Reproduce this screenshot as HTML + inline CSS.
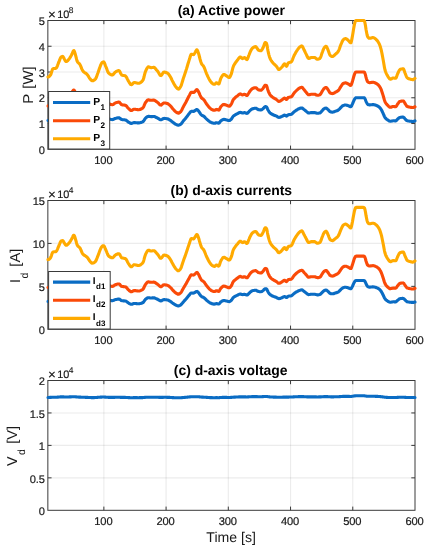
<!DOCTYPE html><html><head><meta charset="utf-8"><title>plot</title><style>html,body{margin:0;padding:0;background:#fff}</style></head><body><svg width="429" height="550" viewBox="0 0 429 550" style="display:block" font-family="'Liberation Sans', Arial, Helvetica, sans-serif" text-rendering="geometricPrecision">
<rect width="429" height="550" fill="#fff"/>
<defs><clipPath id="c0"><rect x="45.85" y="18.9" width="371.15" height="132.0"/></clipPath><clipPath id="c1"><rect x="45.85" y="198.9" width="371.15" height="132.0"/></clipPath><clipPath id="c2"><rect x="45.85" y="378.9" width="371.15" height="133.0"/></clipPath></defs>
<path d="M103.86,20.5 V149.3 M166.08,20.5 V149.3 M228.31,20.5 V149.3 M290.54,20.5 V149.3 M352.77,20.5 V149.3" stroke="#262626" stroke-opacity="0.085" stroke-width="1.15" fill="none"/>
<path d="M47.85,123.54 H415.0 M47.85,97.78 H415.0 M47.85,72.02 H415.0 M47.85,46.26 H415.0" stroke="#262626" stroke-opacity="0.085" stroke-width="1.15" fill="none"/>
<path d="M103.86,149.3 v-3.7 M103.86,20.5 v3.7 M166.08,149.3 v-3.7 M166.08,20.5 v3.7 M228.31,149.3 v-3.7 M228.31,20.5 v3.7 M290.54,149.3 v-3.7 M290.54,20.5 v3.7 M352.77,149.3 v-3.7 M352.77,20.5 v3.7 M47.85,123.54 h3.7 M415.0,123.54 h-3.7 M47.85,97.78 h3.7 M415.0,97.78 h-3.7 M47.85,72.02 h3.7 M415.0,72.02 h-3.7 M47.85,46.26 h3.7 M415.0,46.26 h-3.7" stroke="#3a3a3a" stroke-width="1" fill="none"/>
<rect x="47.85" y="20.5" width="367.15" height="128.8" fill="none" stroke="#3a3a3a" stroke-width="1"/>
<g clip-path="url(#c0)" fill="none" stroke-width="3.1" stroke-linejoin="round" stroke-linecap="round">
<path d="M48.0,120.4 L48.5,120.3 L49.0,120.2 L49.5,120.0 L50.0,119.8 L50.5,119.6 L51.0,119.2 L51.5,118.5 L52.0,117.9 L52.5,117.3 L53.0,117.1 L53.5,117.0 L54.0,117.0 L54.5,117.0 L55.0,117.0 L55.5,116.9 L56.0,116.9 L56.5,116.7 L57.0,116.3 L57.5,115.8 L58.0,115.3 L58.5,114.7 L59.0,114.3 L59.5,113.7 L60.0,113.2 L60.5,112.7 L61.0,112.4 L61.5,112.3 L62.0,112.2 L62.5,112.1 L63.0,112.2 L63.5,112.5 L64.0,112.9 L64.5,113.3 L65.0,113.7 L65.5,114.0 L66.0,114.2 L66.5,114.2 L67.0,114.1 L67.5,113.9 L68.0,113.7 L68.5,113.4 L69.0,113.2 L69.5,112.9 L70.0,112.7 L70.5,112.3 L71.0,112.0 L71.5,111.6 L72.0,111.2 L72.5,110.7 L73.0,110.2 L73.5,109.8 L74.0,109.8 L74.5,110.2 L75.0,110.9 L75.5,111.5 L76.0,112.3 L76.5,113.1 L77.0,113.9 L77.5,114.3 L78.0,114.6 L78.5,114.8 L79.0,114.9 L79.5,115.1 L80.0,115.4 L80.5,115.8 L81.0,116.3 L81.5,116.8 L82.0,117.3 L82.5,117.8 L83.0,118.0 L83.5,118.2 L84.0,118.4 L84.5,118.6 L85.0,118.7 L85.5,118.8 L86.0,119.0 L86.5,119.1 L87.0,119.3 L87.5,119.5 L88.0,119.8 L88.5,120.2 L89.0,120.5 L89.5,120.8 L90.0,121.1 L90.5,121.3 L91.0,121.6 L91.5,121.8 L92.0,121.9 L92.5,121.9 L93.0,121.9 L93.5,121.8 L94.0,121.7 L94.5,121.5 L95.0,121.4 L95.5,121.2 L96.0,120.8 L96.5,120.3 L97.0,119.8 L97.5,119.2 L98.0,118.6 L98.5,118.1 L99.0,117.5 L99.5,116.9 L100.0,116.3 L100.5,115.8 L101.0,115.3 L101.5,115.0 L102.0,114.7 L102.5,114.5 L103.0,114.4 L103.5,114.3 L104.0,114.4 L104.5,114.8 L105.0,115.3 L105.5,115.9 L106.0,116.4 L106.5,116.9 L107.0,117.4 L107.5,117.9 L108.0,118.4 L108.5,118.7 L109.0,118.9 L109.5,119.1 L110.0,119.2 L110.5,119.3 L111.0,119.4 L111.5,119.5 L112.0,119.6 L112.5,119.6 L113.0,119.5 L113.5,119.3 L114.0,119.0 L114.5,118.7 L115.0,118.5 L115.5,118.4 L116.0,118.3 L116.5,118.1 L117.0,118.0 L117.5,117.9 L118.0,117.9 L118.5,117.8 L119.0,117.8 L119.5,118.0 L120.0,118.3 L120.5,118.8 L121.0,119.2 L121.5,119.5 L122.0,119.6 L122.5,119.7 L123.0,119.7 L123.5,119.8 L124.0,119.8 L124.5,119.8 L125.0,119.9 L125.5,120.0 L126.0,120.2 L126.5,120.5 L127.0,120.9 L127.5,121.3 L128.0,121.8 L128.5,122.1 L129.0,122.4 L129.5,122.7 L130.0,123.0 L130.5,123.3 L131.0,123.4 L131.5,123.4 L132.0,123.3 L132.5,123.1 L133.0,122.9 L133.5,122.7 L134.0,122.6 L134.5,122.6 L135.0,122.6 L135.5,122.7 L136.0,122.7 L136.5,122.8 L137.0,122.8 L137.5,122.9 L138.0,122.9 L138.5,122.9 L139.0,122.9 L139.5,122.8 L140.0,122.7 L140.5,122.6 L141.0,122.5 L141.5,122.3 L142.0,122.1 L142.5,121.9 L143.0,121.6 L143.5,121.1 L144.0,120.4 L144.5,119.6 L145.0,118.8 L145.5,118.1 L146.0,117.7 L146.5,117.3 L147.0,116.9 L147.5,116.6 L148.0,116.4 L148.5,116.3 L149.0,116.3 L149.5,116.4 L150.0,116.5 L150.5,116.6 L151.0,116.7 L151.5,116.6 L152.0,116.6 L152.5,116.6 L153.0,116.5 L153.5,116.5 L154.0,116.5 L154.5,116.6 L155.0,116.8 L155.5,117.0 L156.0,117.3 L156.5,117.6 L157.0,117.8 L157.5,118.0 L158.0,118.3 L158.5,118.6 L159.0,118.9 L159.5,119.3 L160.0,119.6 L160.5,119.8 L161.0,119.8 L161.5,119.6 L162.0,119.4 L162.5,119.1 L163.0,118.7 L163.5,118.5 L164.0,118.4 L164.5,118.4 L165.0,118.5 L165.5,118.5 L166.0,118.6 L166.5,118.7 L167.0,118.7 L167.5,118.8 L168.0,119.0 L168.5,119.2 L169.0,119.5 L169.5,119.8 L170.0,120.1 L170.5,120.4 L171.0,120.8 L171.5,121.2 L172.0,121.6 L172.5,122.0 L173.0,122.4 L173.5,122.8 L174.0,123.2 L174.5,123.5 L175.0,123.9 L175.5,124.2 L176.0,124.4 L176.5,124.6 L177.0,124.9 L177.5,125.1 L178.0,125.2 L178.5,125.2 L179.0,125.1 L179.5,124.9 L180.0,124.6 L180.5,124.3 L181.0,124.0 L181.5,123.4 L182.0,122.8 L182.5,122.1 L183.0,121.4 L183.5,120.7 L184.0,120.1 L184.5,119.6 L185.0,119.0 L185.5,118.4 L186.0,117.8 L186.5,117.1 L187.0,116.5 L187.5,115.8 L188.0,115.1 L188.5,114.4 L189.0,113.8 L189.5,113.2 L190.0,112.5 L190.5,111.9 L191.0,111.4 L191.5,111.3 L192.0,111.3 L192.5,111.3 L193.0,111.4 L193.5,111.4 L194.0,111.3 L194.5,111.0 L195.0,110.7 L195.5,110.3 L196.0,109.9 L196.5,109.6 L197.0,109.5 L197.5,109.8 L198.0,110.3 L198.5,110.9 L199.0,111.6 L199.5,112.4 L200.0,113.2 L200.5,113.9 L201.0,114.5 L201.5,115.0 L202.0,115.3 L202.5,115.6 L203.0,115.8 L203.5,116.1 L204.0,116.4 L204.5,116.9 L205.0,117.4 L205.5,118.0 L206.0,118.5 L206.5,119.0 L207.0,119.5 L207.5,119.9 L208.0,120.3 L208.5,120.7 L209.0,121.1 L209.5,121.5 L210.0,121.8 L210.5,122.1 L211.0,122.4 L211.5,122.6 L212.0,122.8 L212.5,123.0 L213.0,123.1 L213.5,123.2 L214.0,123.3 L214.5,123.3 L215.0,123.2 L215.5,123.0 L216.0,122.8 L216.5,122.7 L217.0,122.8 L217.5,122.9 L218.0,123.1 L218.5,123.2 L219.0,123.1 L219.5,122.6 L220.0,121.9 L220.5,121.2 L221.0,120.8 L221.5,120.4 L222.0,120.1 L222.5,119.8 L223.0,119.5 L223.5,119.4 L224.0,119.4 L224.5,119.4 L225.0,119.5 L225.5,119.7 L226.0,119.8 L226.5,119.9 L227.0,120.1 L227.5,120.2 L228.0,120.4 L228.5,120.5 L229.0,120.6 L229.5,120.5 L230.0,120.3 L230.5,119.9 L231.0,119.5 L231.5,118.9 L232.0,118.1 L232.5,117.3 L233.0,116.5 L233.5,116.0 L234.0,115.6 L234.5,115.3 L235.0,115.0 L235.5,114.7 L236.0,114.4 L236.5,114.1 L237.0,113.9 L237.5,113.6 L238.0,113.3 L238.5,113.0 L239.0,112.8 L239.5,112.5 L240.0,112.4 L240.5,112.4 L241.0,112.5 L241.5,112.7 L242.0,112.9 L242.5,113.0 L243.0,113.0 L243.5,112.8 L244.0,112.7 L244.5,112.6 L245.0,112.7 L245.5,112.9 L246.0,113.2 L246.5,113.3 L247.0,113.4 L247.5,113.2 L248.0,112.7 L248.5,112.1 L249.0,111.6 L249.5,111.0 L250.0,110.5 L250.5,110.1 L251.0,109.7 L251.5,109.3 L252.0,109.0 L252.5,108.8 L253.0,108.7 L253.5,108.5 L254.0,108.4 L254.5,108.3 L255.0,108.2 L255.5,108.2 L256.0,108.3 L256.5,108.5 L257.0,108.8 L257.5,109.2 L258.0,109.5 L258.5,109.7 L259.0,109.7 L259.5,109.8 L260.0,109.9 L260.5,109.9 L261.0,109.9 L261.5,109.8 L262.0,109.5 L262.5,109.1 L263.0,108.7 L263.5,108.3 L264.0,107.7 L264.5,107.1 L265.0,106.7 L265.5,106.6 L266.0,106.7 L266.5,106.9 L267.0,107.6 L267.5,108.9 L268.0,110.0 L268.5,110.8 L269.0,111.6 L269.5,112.3 L270.0,112.9 L270.5,113.3 L271.0,113.7 L271.5,114.0 L272.0,114.2 L272.5,114.5 L273.0,114.7 L273.5,115.0 L274.0,115.2 L274.5,115.4 L275.0,115.5 L275.5,115.7 L276.0,115.9 L276.5,116.1 L277.0,116.4 L277.5,116.8 L278.0,117.1 L278.5,117.3 L279.0,117.4 L279.5,117.3 L280.0,117.2 L280.5,117.0 L281.0,116.8 L281.5,116.6 L282.0,116.4 L282.5,116.1 L283.0,115.8 L283.5,115.5 L284.0,115.3 L284.5,115.1 L285.0,115.2 L285.5,115.6 L286.0,115.9 L286.5,116.1 L287.0,115.9 L287.5,115.4 L288.0,114.9 L288.5,114.7 L289.0,114.6 L289.5,114.6 L290.0,114.5 L290.5,114.5 L291.0,114.4 L291.5,114.2 L292.0,113.9 L292.5,113.4 L293.0,112.9 L293.5,112.4 L294.0,111.9 L294.5,111.5 L295.0,111.1 L295.5,110.8 L296.0,110.4 L296.5,110.1 L297.0,109.8 L297.5,109.5 L298.0,109.2 L298.5,108.9 L299.0,108.7 L299.5,108.5 L300.0,108.3 L300.5,108.2 L301.0,108.0 L301.5,108.0 L302.0,108.0 L302.5,108.2 L303.0,108.6 L303.5,109.1 L304.0,109.5 L304.5,109.9 L305.0,110.3 L305.5,110.7 L306.0,111.2 L306.5,111.5 L307.0,112.0 L307.5,112.4 L308.0,112.8 L308.5,113.0 L309.0,113.0 L309.5,112.9 L310.0,112.8 L310.5,112.7 L311.0,112.6 L311.5,112.6 L312.0,112.6 L312.5,112.6 L313.0,112.6 L313.5,112.6 L314.0,112.6 L314.5,112.6 L315.0,112.6 L315.5,112.8 L316.0,113.0 L316.5,113.1 L317.0,113.3 L317.5,113.3 L318.0,113.3 L318.5,113.2 L319.0,113.1 L319.5,113.0 L320.0,112.9 L320.5,112.6 L321.0,112.0 L321.5,111.4 L322.0,110.8 L322.5,110.3 L323.0,109.7 L323.5,109.2 L324.0,108.8 L324.5,108.5 L325.0,108.3 L325.5,108.2 L326.0,108.1 L326.5,108.2 L327.0,108.6 L327.5,109.1 L328.0,109.5 L328.5,110.1 L329.0,110.7 L329.5,111.2 L330.0,111.6 L330.5,111.8 L331.0,112.0 L331.5,112.1 L332.0,112.2 L332.5,112.2 L333.0,112.1 L333.5,112.0 L334.0,111.8 L334.5,111.6 L335.0,111.4 L335.5,111.2 L336.0,111.1 L336.5,110.9 L337.0,110.7 L337.5,110.5 L338.0,110.3 L338.5,109.9 L339.0,109.5 L339.5,109.0 L340.0,108.4 L340.5,107.8 L341.0,107.3 L341.5,106.8 L342.0,106.4 L342.5,105.9 L343.0,105.6 L343.5,105.4 L344.0,105.3 L344.5,105.1 L345.0,105.0 L345.5,105.0 L346.0,105.1 L346.5,105.2 L347.0,105.3 L347.5,105.5 L348.0,105.6 L348.5,105.8 L349.0,106.0 L349.5,106.3 L350.0,106.5 L350.5,106.7 L351.0,106.7 L351.5,106.0 L352.0,104.9 L352.5,103.9 L353.0,102.6 L353.5,101.4 L354.0,100.3 L354.5,99.3 L355.0,98.5 L355.5,98.0 L356.0,97.8 L356.5,97.8 L357.0,97.8 L357.5,97.8 L358.0,97.8 L358.5,97.8 L359.0,97.8 L359.5,97.8 L360.0,97.8 L360.5,97.8 L361.0,97.8 L361.5,97.8 L362.0,97.8 L362.5,97.8 L363.0,97.8 L363.5,97.8 L364.0,97.8 L364.5,98.0 L365.0,98.8 L365.5,99.9 L366.0,101.3 L366.5,102.4 L367.0,103.4 L367.5,104.1 L368.0,104.5 L368.5,104.7 L369.0,104.8 L369.5,104.9 L370.0,104.9 L370.5,104.8 L371.0,104.8 L371.5,104.7 L372.0,104.7 L372.5,104.6 L373.0,104.6 L373.5,104.6 L374.0,104.7 L374.5,104.8 L375.0,105.0 L375.5,105.1 L376.0,105.3 L376.5,105.5 L377.0,105.7 L377.5,106.0 L378.0,106.2 L378.5,106.6 L379.0,106.9 L379.5,107.4 L380.0,107.9 L380.5,108.5 L381.0,109.2 L381.5,110.0 L382.0,111.0 L382.5,112.1 L383.0,113.2 L383.5,114.3 L384.0,115.5 L384.5,116.6 L385.0,117.6 L385.5,118.2 L386.0,118.7 L386.5,119.2 L387.0,119.5 L387.5,119.9 L388.0,120.2 L388.5,120.5 L389.0,120.8 L389.5,121.1 L390.0,121.2 L390.5,121.3 L391.0,121.2 L391.5,121.1 L392.0,121.0 L392.5,120.9 L393.0,120.8 L393.5,120.8 L394.0,120.8 L394.5,120.8 L395.0,120.9 L395.5,120.9 L396.0,120.8 L396.5,120.4 L397.0,119.8 L397.5,119.2 L398.0,118.8 L398.5,118.3 L399.0,117.9 L399.5,117.6 L400.0,117.4 L400.5,117.3 L401.0,117.2 L401.5,117.2 L402.0,117.1 L402.5,117.1 L403.0,117.1 L403.5,117.2 L404.0,117.6 L404.5,118.2 L405.0,118.8 L405.5,119.3 L406.0,119.8 L406.5,120.3 L407.0,120.6 L407.5,120.8 L408.0,120.9 L408.5,121.0 L409.0,121.1 L409.5,121.2 L410.0,121.2 L410.5,121.3 L411.0,121.3 L411.5,121.4 L412.0,121.4 L412.5,121.5 L413.0,121.4 L413.5,121.4 L414.0,121.3 L414.5,121.1 L415.0,120.9" stroke="#0A6CC4"/>
<path d="M48.0,105.9 L48.5,105.9 L49.0,105.7 L49.5,105.4 L50.0,105.1 L50.5,104.7 L51.0,104.1 L51.5,103.2 L52.0,102.2 L52.5,101.3 L53.0,100.9 L53.5,100.9 L54.0,100.8 L54.5,100.8 L55.0,100.8 L55.5,100.8 L56.0,100.7 L56.5,100.4 L57.0,99.8 L57.5,99.1 L58.0,98.3 L58.5,97.5 L59.0,96.8 L59.5,95.9 L60.0,95.1 L60.5,94.4 L61.0,94.0 L61.5,93.8 L62.0,93.6 L62.5,93.6 L63.0,93.7 L63.5,94.1 L64.0,94.7 L64.5,95.3 L65.0,95.9 L65.5,96.4 L66.0,96.6 L66.5,96.6 L67.0,96.4 L67.5,96.2 L68.0,95.9 L68.5,95.5 L69.0,95.1 L69.5,94.7 L70.0,94.3 L70.5,93.8 L71.0,93.3 L71.5,92.7 L72.0,92.1 L72.5,91.4 L73.0,90.7 L73.5,90.1 L74.0,90.1 L74.5,90.7 L75.0,91.7 L75.5,92.7 L76.0,93.8 L76.5,95.1 L77.0,96.2 L77.5,96.8 L78.0,97.2 L78.5,97.5 L79.0,97.8 L79.5,98.0 L80.0,98.5 L80.5,99.1 L81.0,99.8 L81.5,100.6 L82.0,101.4 L82.5,102.0 L83.0,102.4 L83.5,102.7 L84.0,103.0 L84.5,103.2 L85.0,103.4 L85.5,103.6 L86.0,103.8 L86.5,104.0 L87.0,104.3 L87.5,104.6 L88.0,105.1 L88.5,105.6 L89.0,106.1 L89.5,106.6 L90.0,107.0 L90.5,107.3 L91.0,107.7 L91.5,108.0 L92.0,108.2 L92.5,108.2 L93.0,108.1 L93.5,108.0 L94.0,107.8 L94.5,107.6 L95.0,107.4 L95.5,107.1 L96.0,106.6 L96.5,105.8 L97.0,105.0 L97.5,104.1 L98.0,103.3 L98.5,102.5 L99.0,101.6 L99.5,100.7 L100.0,99.8 L100.5,99.0 L101.0,98.4 L101.5,97.8 L102.0,97.3 L102.5,97.1 L103.0,96.9 L103.5,96.9 L104.0,97.0 L104.5,97.6 L105.0,98.4 L105.5,99.2 L106.0,99.9 L106.5,100.7 L107.0,101.5 L107.5,102.3 L108.0,103.0 L108.5,103.5 L109.0,103.7 L109.5,104.0 L110.0,104.2 L110.5,104.4 L111.0,104.5 L111.5,104.6 L112.0,104.7 L112.5,104.7 L113.0,104.6 L113.5,104.3 L114.0,103.9 L114.5,103.5 L115.0,103.1 L115.5,102.9 L116.0,102.7 L116.5,102.6 L117.0,102.4 L117.5,102.3 L118.0,102.2 L118.5,102.1 L119.0,102.1 L119.5,102.3 L120.0,102.9 L120.5,103.5 L121.0,104.1 L121.5,104.6 L122.0,104.8 L122.5,104.9 L123.0,104.9 L123.5,105.0 L124.0,105.1 L124.5,105.1 L125.0,105.2 L125.5,105.3 L126.0,105.6 L126.5,106.1 L127.0,106.7 L127.5,107.4 L128.0,108.0 L128.5,108.5 L129.0,108.9 L129.5,109.4 L130.0,109.9 L130.5,110.3 L131.0,110.5 L131.5,110.5 L132.0,110.3 L132.5,110.0 L133.0,109.7 L133.5,109.4 L134.0,109.2 L134.5,109.2 L135.0,109.3 L135.5,109.3 L136.0,109.4 L136.5,109.5 L137.0,109.6 L137.5,109.6 L138.0,109.7 L138.5,109.7 L139.0,109.7 L139.5,109.6 L140.0,109.5 L140.5,109.3 L141.0,109.0 L141.5,108.8 L142.0,108.5 L142.5,108.2 L143.0,107.8 L143.5,107.0 L144.0,105.9 L144.5,104.7 L145.0,103.5 L145.5,102.5 L146.0,101.9 L146.5,101.3 L147.0,100.7 L147.5,100.2 L148.0,99.9 L148.5,99.8 L149.0,99.9 L149.5,100.0 L150.0,100.2 L150.5,100.3 L151.0,100.3 L151.5,100.3 L152.0,100.3 L152.5,100.2 L153.0,100.1 L153.5,100.1 L154.0,100.1 L154.5,100.3 L155.0,100.6 L155.5,100.9 L156.0,101.3 L156.5,101.7 L157.0,102.0 L157.5,102.4 L158.0,102.8 L158.5,103.2 L159.0,103.8 L159.5,104.3 L160.0,104.8 L160.5,105.0 L161.0,105.1 L161.5,104.8 L162.0,104.4 L162.5,103.9 L163.0,103.5 L163.5,103.1 L164.0,103.0 L164.5,103.0 L165.0,103.0 L165.5,103.1 L166.0,103.2 L166.5,103.3 L167.0,103.5 L167.5,103.6 L168.0,103.8 L168.5,104.2 L169.0,104.6 L169.5,105.0 L170.0,105.5 L170.5,105.9 L171.0,106.5 L171.5,107.1 L172.0,107.8 L172.5,108.4 L173.0,109.0 L173.5,109.5 L174.0,110.1 L174.5,110.6 L175.0,111.1 L175.5,111.6 L176.0,112.0 L176.5,112.3 L177.0,112.7 L177.5,113.0 L178.0,113.1 L178.5,113.2 L179.0,113.0 L179.5,112.7 L180.0,112.3 L180.5,111.9 L181.0,111.3 L181.5,110.5 L182.0,109.5 L182.5,108.4 L183.0,107.4 L183.5,106.5 L184.0,105.6 L184.5,104.7 L185.0,103.8 L185.5,102.9 L186.0,102.0 L186.5,101.0 L187.0,100.1 L187.5,99.0 L188.0,98.0 L188.5,97.0 L189.0,96.1 L189.5,95.2 L190.0,94.1 L190.5,93.1 L191.0,92.4 L191.5,92.2 L192.0,92.3 L192.5,92.4 L193.0,92.4 L193.5,92.5 L194.0,92.3 L194.5,91.8 L195.0,91.3 L195.5,90.8 L196.0,90.2 L196.5,89.7 L197.0,89.6 L197.5,90.1 L198.0,90.8 L198.5,91.7 L199.0,92.7 L199.5,93.9 L200.0,95.1 L200.5,96.1 L201.0,97.1 L201.5,97.9 L202.0,98.4 L202.5,98.7 L203.0,99.0 L203.5,99.4 L204.0,100.0 L204.5,100.7 L205.0,101.4 L205.5,102.3 L206.0,103.1 L206.5,103.9 L207.0,104.5 L207.5,105.2 L208.0,105.8 L208.5,106.5 L209.0,107.1 L209.5,107.6 L210.0,108.1 L210.5,108.5 L211.0,109.0 L211.5,109.3 L212.0,109.6 L212.5,109.8 L213.0,110.0 L213.5,110.2 L214.0,110.3 L214.5,110.3 L215.0,110.1 L215.5,109.8 L216.0,109.5 L216.5,109.4 L217.0,109.5 L217.5,109.7 L218.0,109.9 L218.5,110.1 L219.0,110.0 L219.5,109.3 L220.0,108.2 L220.5,107.2 L221.0,106.5 L221.5,106.0 L222.0,105.5 L222.5,105.0 L223.0,104.7 L223.5,104.5 L224.0,104.4 L224.5,104.5 L225.0,104.7 L225.5,104.8 L226.0,105.1 L226.5,105.2 L227.0,105.4 L227.5,105.7 L228.0,105.9 L228.5,106.1 L229.0,106.2 L229.5,106.2 L230.0,105.8 L230.5,105.2 L231.0,104.6 L231.5,103.7 L232.0,102.6 L232.5,101.3 L233.0,100.1 L233.5,99.3 L234.0,98.8 L234.5,98.3 L235.0,97.8 L235.5,97.3 L236.0,96.9 L236.5,96.5 L237.0,96.1 L237.5,95.8 L238.0,95.4 L238.5,94.9 L239.0,94.5 L239.5,94.2 L240.0,94.0 L240.5,93.9 L241.0,94.1 L241.5,94.5 L242.0,94.8 L242.5,94.9 L243.0,94.8 L243.5,94.6 L244.0,94.3 L244.5,94.3 L245.0,94.4 L245.5,94.7 L246.0,95.1 L246.5,95.4 L247.0,95.5 L247.5,95.1 L248.0,94.3 L248.5,93.5 L249.0,92.7 L249.5,91.9 L250.0,91.1 L250.5,90.5 L251.0,89.9 L251.5,89.4 L252.0,88.9 L252.5,88.6 L253.0,88.3 L253.5,88.1 L254.0,88.0 L254.5,87.8 L255.0,87.7 L255.5,87.7 L256.0,87.8 L256.5,88.1 L257.0,88.6 L257.5,89.1 L258.0,89.5 L258.5,89.8 L259.0,90.0 L259.5,90.1 L260.0,90.1 L260.5,90.2 L261.0,90.2 L261.5,90.0 L262.0,89.5 L262.5,89.0 L263.0,88.4 L263.5,87.7 L264.0,86.8 L264.5,85.9 L265.0,85.3 L265.5,85.2 L266.0,85.4 L266.5,85.7 L267.0,86.8 L267.5,88.7 L268.0,90.3 L268.5,91.6 L269.0,92.8 L269.5,93.8 L270.0,94.7 L270.5,95.3 L271.0,95.8 L271.5,96.3 L272.0,96.7 L272.5,97.1 L273.0,97.5 L273.5,97.8 L274.0,98.1 L274.5,98.4 L275.0,98.7 L275.5,98.9 L276.0,99.2 L276.5,99.6 L277.0,100.0 L277.5,100.5 L278.0,101.0 L278.5,101.4 L279.0,101.4 L279.5,101.3 L280.0,101.1 L280.5,100.8 L281.0,100.5 L281.5,100.2 L282.0,99.9 L282.5,99.5 L283.0,99.0 L283.5,98.6 L284.0,98.2 L284.5,98.1 L285.0,98.2 L285.5,98.7 L286.0,99.3 L286.5,99.5 L287.0,99.2 L287.5,98.4 L288.0,97.7 L288.5,97.4 L289.0,97.3 L289.5,97.2 L290.0,97.1 L290.5,97.0 L291.0,96.9 L291.5,96.7 L292.0,96.2 L292.5,95.5 L293.0,94.7 L293.5,93.9 L294.0,93.2 L294.5,92.6 L295.0,92.0 L295.5,91.5 L296.0,91.0 L296.5,90.5 L297.0,90.0 L297.5,89.6 L298.0,89.1 L298.5,88.7 L299.0,88.4 L299.5,88.1 L300.0,87.8 L300.5,87.6 L301.0,87.4 L301.5,87.3 L302.0,87.3 L302.5,87.6 L303.0,88.3 L303.5,89.0 L304.0,89.6 L304.5,90.2 L305.0,90.8 L305.5,91.5 L306.0,92.1 L306.5,92.7 L307.0,93.3 L307.5,94.0 L308.0,94.5 L308.5,94.8 L309.0,94.8 L309.5,94.7 L310.0,94.5 L310.5,94.4 L311.0,94.3 L311.5,94.2 L312.0,94.2 L312.5,94.2 L313.0,94.2 L313.5,94.2 L314.0,94.2 L314.5,94.2 L315.0,94.3 L315.5,94.5 L316.0,94.8 L316.5,95.1 L317.0,95.2 L317.5,95.3 L318.0,95.3 L318.5,95.2 L319.0,95.1 L319.5,94.9 L320.0,94.7 L320.5,94.2 L321.0,93.4 L321.5,92.5 L322.0,91.6 L322.5,90.8 L323.0,90.0 L323.5,89.2 L324.0,88.6 L324.5,88.2 L325.0,87.9 L325.5,87.6 L326.0,87.5 L326.5,87.7 L327.0,88.2 L327.5,88.9 L328.0,89.7 L328.5,90.4 L329.0,91.3 L329.5,92.2 L330.0,92.8 L330.5,93.1 L331.0,93.3 L331.5,93.5 L332.0,93.6 L332.5,93.6 L333.0,93.5 L333.5,93.3 L334.0,93.1 L334.5,92.8 L335.0,92.5 L335.5,92.2 L336.0,91.9 L336.5,91.7 L337.0,91.4 L337.5,91.1 L338.0,90.7 L338.5,90.3 L339.0,89.6 L339.5,88.8 L340.0,87.9 L340.5,87.1 L341.0,86.3 L341.5,85.6 L342.0,84.9 L342.5,84.2 L343.0,83.7 L343.5,83.4 L344.0,83.2 L344.5,83.0 L345.0,82.9 L345.5,82.9 L346.0,82.9 L346.5,83.1 L347.0,83.3 L347.5,83.6 L348.0,83.8 L348.5,84.1 L349.0,84.4 L349.5,84.8 L350.0,85.2 L350.5,85.4 L351.0,85.3 L351.5,84.3 L352.0,82.7 L352.5,81.2 L353.0,79.3 L353.5,77.5 L354.0,75.8 L354.5,74.2 L355.0,73.1 L355.5,72.3 L356.0,72.1 L356.5,72.0 L357.0,72.0 L357.5,72.0 L358.0,72.0 L358.5,72.0 L359.0,72.0 L359.5,72.0 L360.0,72.0 L360.5,72.0 L361.0,72.0 L361.5,72.0 L362.0,72.0 L362.5,72.0 L363.0,72.0 L363.5,72.0 L364.0,72.1 L364.5,72.4 L365.0,73.6 L365.5,75.1 L366.0,77.2 L366.5,78.9 L367.0,80.4 L367.5,81.6 L368.0,82.0 L368.5,82.4 L369.0,82.6 L369.5,82.7 L370.0,82.7 L370.5,82.6 L371.0,82.5 L371.5,82.4 L372.0,82.4 L372.5,82.3 L373.0,82.3 L373.5,82.3 L374.0,82.4 L374.5,82.6 L375.0,82.8 L375.5,83.1 L376.0,83.3 L376.5,83.6 L377.0,83.9 L377.5,84.3 L378.0,84.7 L378.5,85.2 L379.0,85.8 L379.5,86.4 L380.0,87.2 L380.5,88.1 L381.0,89.2 L381.5,90.4 L382.0,91.9 L382.5,93.5 L383.0,95.1 L383.5,96.8 L384.0,98.6 L384.5,100.3 L385.0,101.7 L385.5,102.6 L386.0,103.4 L386.5,104.1 L387.0,104.7 L387.5,105.2 L388.0,105.7 L388.5,106.2 L389.0,106.6 L389.5,107.0 L390.0,107.2 L390.5,107.2 L391.0,107.2 L391.5,107.0 L392.0,106.8 L392.5,106.6 L393.0,106.5 L393.5,106.5 L394.0,106.6 L394.5,106.6 L395.0,106.7 L395.5,106.7 L396.0,106.5 L396.5,105.9 L397.0,105.1 L397.5,104.2 L398.0,103.5 L398.5,102.9 L399.0,102.2 L399.5,101.7 L400.0,101.4 L400.5,101.3 L401.0,101.2 L401.5,101.1 L402.0,101.1 L402.5,101.0 L403.0,101.0 L403.5,101.1 L404.0,101.7 L404.5,102.6 L405.0,103.5 L405.5,104.2 L406.0,105.0 L406.5,105.8 L407.0,106.3 L407.5,106.5 L408.0,106.7 L408.5,106.9 L409.0,107.0 L409.5,107.1 L410.0,107.2 L410.5,107.3 L411.0,107.4 L411.5,107.4 L412.0,107.5 L412.5,107.5 L413.0,107.5 L413.5,107.4 L414.0,107.2 L414.5,107.0 L415.0,106.8" stroke="#FA4A08"/>
<path d="M48.0,77.0 L48.5,76.9 L49.0,76.6 L49.5,76.1 L50.0,75.6 L50.5,75.0 L51.0,74.0 L51.5,72.4 L52.0,70.7 L52.5,69.3 L53.0,68.7 L53.5,68.6 L54.0,68.5 L54.5,68.5 L55.0,68.5 L55.5,68.4 L56.0,68.3 L56.5,67.7 L57.0,66.8 L57.5,65.6 L58.0,64.2 L58.5,62.9 L59.0,61.7 L59.5,60.4 L60.0,59.0 L60.5,57.8 L61.0,57.1 L61.5,56.8 L62.0,56.5 L62.5,56.4 L63.0,56.7 L63.5,57.4 L64.0,58.3 L64.5,59.4 L65.0,60.4 L65.5,61.1 L66.0,61.5 L66.5,61.4 L67.0,61.2 L67.5,60.8 L68.0,60.3 L68.5,59.7 L69.0,59.0 L69.5,58.4 L70.0,57.7 L70.5,56.9 L71.0,55.9 L71.5,55.0 L72.0,54.0 L72.5,52.8 L73.0,51.6 L73.5,50.7 L74.0,50.6 L74.5,51.6 L75.0,53.2 L75.5,54.9 L76.0,56.8 L76.5,58.9 L77.0,60.8 L77.5,61.8 L78.0,62.5 L78.5,63.0 L79.0,63.4 L79.5,63.9 L80.0,64.6 L80.5,65.6 L81.0,66.8 L81.5,68.1 L82.0,69.4 L82.5,70.4 L83.0,71.1 L83.5,71.7 L84.0,72.1 L84.5,72.5 L85.0,72.8 L85.5,73.1 L86.0,73.4 L86.5,73.8 L87.0,74.3 L87.5,74.9 L88.0,75.6 L88.5,76.4 L89.0,77.3 L89.5,78.1 L90.0,78.8 L90.5,79.4 L91.0,79.9 L91.5,80.4 L92.0,80.7 L92.5,80.8 L93.0,80.7 L93.5,80.5 L94.0,80.2 L94.5,79.9 L95.0,79.5 L95.5,79.0 L96.0,78.1 L96.5,76.9 L97.0,75.5 L97.5,74.0 L98.0,72.7 L98.5,71.3 L99.0,69.8 L99.5,68.3 L100.0,66.9 L100.5,65.5 L101.0,64.4 L101.5,63.4 L102.0,62.7 L102.5,62.3 L103.0,62.0 L103.5,61.9 L104.0,62.2 L104.5,63.1 L105.0,64.4 L105.5,65.8 L106.0,67.0 L106.5,68.2 L107.0,69.6 L107.5,70.9 L108.0,72.1 L108.5,72.9 L109.0,73.4 L109.5,73.8 L110.0,74.1 L110.5,74.4 L111.0,74.7 L111.5,74.9 L112.0,75.0 L112.5,75.0 L113.0,74.7 L113.5,74.2 L114.0,73.6 L114.5,72.9 L115.0,72.3 L115.5,72.0 L116.0,71.7 L116.5,71.4 L117.0,71.1 L117.5,70.9 L118.0,70.7 L118.5,70.6 L119.0,70.6 L119.5,71.0 L120.0,71.9 L120.5,73.0 L121.0,74.0 L121.5,74.8 L122.0,75.1 L122.5,75.3 L123.0,75.4 L123.5,75.5 L124.0,75.6 L124.5,75.7 L125.0,75.8 L125.5,76.0 L126.0,76.5 L126.5,77.3 L127.0,78.3 L127.5,79.4 L128.0,80.4 L128.5,81.2 L129.0,82.0 L129.5,82.9 L130.0,83.6 L130.5,84.3 L131.0,84.6 L131.5,84.7 L132.0,84.4 L132.5,83.9 L133.0,83.3 L133.5,82.8 L134.0,82.5 L134.5,82.5 L135.0,82.6 L135.5,82.7 L136.0,82.8 L136.5,82.9 L137.0,83.1 L137.5,83.2 L138.0,83.3 L138.5,83.3 L139.0,83.3 L139.5,83.1 L140.0,82.9 L140.5,82.6 L141.0,82.2 L141.5,81.8 L142.0,81.3 L142.5,80.7 L143.0,80.1 L143.5,78.8 L144.0,77.0 L144.5,74.9 L145.0,73.0 L145.5,71.4 L146.0,70.3 L146.5,69.3 L147.0,68.3 L147.5,67.5 L148.0,67.0 L148.5,66.8 L149.0,66.9 L149.5,67.1 L150.0,67.4 L150.5,67.6 L151.0,67.7 L151.5,67.7 L152.0,67.6 L152.5,67.5 L153.0,67.4 L153.5,67.3 L154.0,67.3 L154.5,67.6 L155.0,68.1 L155.5,68.7 L156.0,69.3 L156.5,70.0 L157.0,70.5 L157.5,71.1 L158.0,71.7 L158.5,72.5 L159.0,73.4 L159.5,74.3 L160.0,75.1 L160.5,75.5 L161.0,75.6 L161.5,75.2 L162.0,74.5 L162.5,73.7 L163.0,72.9 L163.5,72.3 L164.0,72.1 L164.5,72.1 L165.0,72.2 L165.5,72.3 L166.0,72.5 L166.5,72.7 L167.0,72.9 L167.5,73.2 L168.0,73.5 L168.5,74.1 L169.0,74.7 L169.5,75.5 L170.0,76.2 L170.5,77.0 L171.0,77.9 L171.5,79.0 L172.0,80.1 L172.5,81.1 L173.0,82.1 L173.5,83.0 L174.0,83.9 L174.5,84.8 L175.0,85.7 L175.5,86.4 L176.0,87.1 L176.5,87.7 L177.0,88.2 L177.5,88.7 L178.0,89.0 L178.5,89.1 L179.0,88.8 L179.5,88.3 L180.0,87.6 L180.5,86.9 L181.0,85.9 L181.5,84.6 L182.0,82.9 L182.5,81.2 L183.0,79.5 L183.5,77.9 L184.0,76.4 L184.5,74.9 L185.0,73.5 L185.5,72.0 L186.0,70.4 L186.5,68.9 L187.0,67.2 L187.5,65.5 L188.0,63.8 L188.5,62.2 L189.0,60.6 L189.5,59.1 L190.0,57.3 L190.5,55.7 L191.0,54.5 L191.5,54.2 L192.0,54.3 L192.5,54.4 L193.0,54.5 L193.5,54.6 L194.0,54.3 L194.5,53.5 L195.0,52.7 L195.5,51.8 L196.0,50.8 L196.5,50.0 L197.0,49.8 L197.5,50.6 L198.0,51.9 L198.5,53.3 L199.0,55.0 L199.5,57.0 L200.0,59.0 L200.5,60.7 L201.0,62.3 L201.5,63.6 L202.0,64.4 L202.5,65.0 L203.0,65.5 L203.5,66.2 L204.0,67.1 L204.5,68.2 L205.0,69.5 L205.5,70.9 L206.0,72.3 L206.5,73.6 L207.0,74.7 L207.5,75.8 L208.0,76.9 L208.5,77.9 L209.0,78.9 L209.5,79.8 L210.0,80.7 L210.5,81.4 L211.0,82.1 L211.5,82.7 L212.0,83.2 L212.5,83.5 L213.0,83.8 L213.5,84.1 L214.0,84.3 L214.5,84.3 L215.0,84.0 L215.5,83.5 L216.0,83.0 L216.5,82.8 L217.0,83.0 L217.5,83.3 L218.0,83.7 L218.5,84.0 L219.0,83.8 L219.5,82.6 L220.0,80.9 L220.5,79.2 L221.0,78.0 L221.5,77.1 L222.0,76.3 L222.5,75.5 L223.0,74.9 L223.5,74.6 L224.0,74.5 L224.5,74.6 L225.0,74.9 L225.5,75.2 L226.0,75.6 L226.5,75.9 L227.0,76.2 L227.5,76.6 L228.0,77.0 L228.5,77.3 L229.0,77.5 L229.5,77.4 L230.0,76.8 L230.5,75.8 L231.0,74.7 L231.5,73.4 L232.0,71.4 L232.5,69.3 L233.0,67.4 L233.5,66.0 L234.0,65.1 L234.5,64.2 L235.0,63.5 L235.5,62.7 L236.0,62.0 L236.5,61.3 L237.0,60.7 L237.5,60.1 L238.0,59.4 L238.5,58.7 L239.0,58.0 L239.5,57.4 L240.0,57.1 L240.5,57.0 L241.0,57.4 L241.5,57.9 L242.0,58.4 L242.5,58.6 L243.0,58.4 L243.5,58.1 L244.0,57.7 L244.5,57.6 L245.0,57.9 L245.5,58.4 L246.0,58.9 L246.5,59.4 L247.0,59.6 L247.5,59.0 L248.0,57.7 L248.5,56.2 L249.0,55.0 L249.5,53.7 L250.0,52.4 L250.5,51.3 L251.0,50.3 L251.5,49.4 L252.0,48.6 L252.5,48.1 L253.0,47.7 L253.5,47.4 L254.0,47.1 L254.5,46.8 L255.0,46.7 L255.5,46.6 L256.0,46.8 L256.5,47.4 L257.0,48.1 L257.5,49.0 L258.0,49.7 L258.5,50.2 L259.0,50.4 L259.5,50.6 L260.0,50.7 L260.5,50.8 L261.0,50.8 L261.5,50.4 L262.0,49.7 L262.5,48.8 L263.0,47.8 L263.5,46.7 L264.0,45.2 L264.5,43.7 L265.0,42.7 L265.5,42.5 L266.0,42.8 L266.5,43.3 L267.0,45.1 L267.5,48.3 L268.0,50.9 L268.5,53.1 L269.0,55.1 L269.5,56.9 L270.0,58.3 L270.5,59.3 L271.0,60.2 L271.5,61.0 L272.0,61.7 L272.5,62.3 L273.0,62.9 L273.5,63.5 L274.0,64.0 L274.5,64.4 L275.0,64.9 L275.5,65.4 L276.0,65.8 L276.5,66.4 L277.0,67.1 L277.5,68.0 L278.0,68.8 L278.5,69.4 L279.0,69.5 L279.5,69.3 L280.0,68.9 L280.5,68.5 L281.0,68.0 L281.5,67.5 L282.0,67.0 L282.5,66.3 L283.0,65.5 L283.5,64.8 L284.0,64.2 L284.5,63.9 L285.0,64.2 L285.5,65.0 L286.0,65.9 L286.5,66.3 L287.0,65.7 L287.5,64.5 L288.0,63.3 L288.5,62.8 L289.0,62.6 L289.5,62.4 L290.0,62.3 L290.5,62.2 L291.0,62.0 L291.5,61.6 L292.0,60.8 L292.5,59.6 L293.0,58.3 L293.5,57.0 L294.0,55.8 L294.5,54.8 L295.0,53.9 L295.5,53.0 L296.0,52.1 L296.5,51.3 L297.0,50.5 L297.5,49.8 L298.0,49.0 L298.5,48.4 L299.0,47.8 L299.5,47.2 L300.0,46.8 L300.5,46.5 L301.0,46.1 L301.5,45.9 L302.0,46.0 L302.5,46.5 L303.0,47.6 L303.5,48.7 L304.0,49.8 L304.5,50.8 L305.0,51.8 L305.5,52.9 L306.0,53.9 L306.5,54.9 L307.0,56.0 L307.5,57.1 L308.0,58.0 L308.5,58.5 L309.0,58.4 L309.5,58.3 L310.0,58.0 L310.5,57.8 L311.0,57.6 L311.5,57.5 L312.0,57.5 L312.5,57.5 L313.0,57.5 L313.5,57.5 L314.0,57.5 L314.5,57.5 L315.0,57.6 L315.5,58.0 L316.0,58.4 L316.5,58.9 L317.0,59.2 L317.5,59.3 L318.0,59.2 L318.5,59.1 L319.0,58.9 L319.5,58.6 L320.0,58.3 L320.5,57.5 L321.0,56.2 L321.5,54.6 L322.0,53.1 L322.5,51.8 L323.0,50.4 L323.5,49.1 L324.0,48.1 L324.5,47.4 L325.0,46.9 L325.5,46.5 L326.0,46.3 L326.5,46.6 L327.0,47.5 L327.5,48.7 L328.0,49.9 L328.5,51.2 L329.0,52.7 L329.5,54.1 L330.0,55.2 L330.5,55.6 L331.0,56.0 L331.5,56.3 L332.0,56.5 L332.5,56.5 L333.0,56.3 L333.5,56.0 L334.0,55.6 L334.5,55.1 L335.0,54.6 L335.5,54.1 L336.0,53.7 L336.5,53.3 L337.0,52.8 L337.5,52.3 L338.0,51.7 L338.5,50.9 L339.0,49.8 L339.5,48.5 L340.0,47.0 L340.5,45.6 L341.0,44.3 L341.5,43.2 L342.0,42.0 L342.5,40.9 L343.0,40.0 L343.5,39.5 L344.0,39.2 L344.5,38.9 L345.0,38.7 L345.5,38.6 L346.0,38.7 L346.5,38.9 L347.0,39.3 L347.5,39.7 L348.0,40.2 L348.5,40.6 L349.0,41.1 L349.5,41.8 L350.0,42.4 L350.5,42.8 L351.0,42.7 L351.5,41.0 L352.0,38.4 L352.5,35.7 L353.0,32.7 L353.5,29.6 L354.0,26.8 L354.5,24.2 L355.0,22.3 L355.5,20.9 L356.0,20.6 L356.5,20.5 L357.0,20.5 L357.5,20.5 L358.0,20.5 L358.5,20.5 L359.0,20.5 L359.5,20.5 L360.0,20.5 L360.5,20.5 L361.0,20.5 L361.5,20.5 L362.0,20.5 L362.5,20.5 L363.0,20.5 L363.5,20.5 L364.0,20.6 L364.5,21.1 L365.0,23.1 L365.5,25.7 L366.0,29.2 L366.5,32.0 L367.0,34.5 L367.5,36.4 L368.0,37.2 L368.5,37.8 L369.0,38.2 L369.5,38.3 L370.0,38.3 L370.5,38.2 L371.0,38.0 L371.5,37.9 L372.0,37.7 L372.5,37.6 L373.0,37.6 L373.5,37.7 L374.0,37.9 L374.5,38.1 L375.0,38.5 L375.5,38.9 L376.0,39.3 L376.5,39.8 L377.0,40.3 L377.5,40.9 L378.0,41.7 L378.5,42.5 L379.0,43.4 L379.5,44.4 L380.0,45.8 L380.5,47.3 L381.0,49.1 L381.5,51.2 L382.0,53.6 L382.5,56.3 L383.0,59.0 L383.5,61.8 L384.0,64.8 L384.5,67.7 L385.0,70.0 L385.5,71.5 L386.0,72.8 L386.5,73.9 L387.0,74.9 L387.5,75.7 L388.0,76.6 L388.5,77.4 L389.0,78.1 L389.5,78.7 L390.0,79.1 L390.5,79.2 L391.0,79.1 L391.5,78.8 L392.0,78.5 L392.5,78.2 L393.0,78.0 L393.5,78.0 L394.0,78.1 L394.5,78.2 L395.0,78.3 L395.5,78.3 L396.0,78.0 L396.5,77.0 L397.0,75.6 L397.5,74.1 L398.0,73.0 L398.5,71.9 L399.0,70.8 L399.5,70.0 L400.0,69.5 L400.5,69.3 L401.0,69.1 L401.5,69.0 L402.0,68.9 L402.5,68.8 L403.0,68.8 L403.5,69.0 L404.0,70.0 L404.5,71.5 L405.0,73.0 L405.5,74.2 L406.0,75.5 L406.5,76.7 L407.0,77.6 L407.5,78.0 L408.0,78.3 L408.5,78.6 L409.0,78.8 L409.5,79.0 L410.0,79.1 L410.5,79.2 L411.0,79.4 L411.5,79.5 L412.0,79.6 L412.5,79.7 L413.0,79.7 L413.5,79.5 L414.0,79.2 L414.5,78.8 L415.0,78.4" stroke="#FFAA00"/>
</g>
<rect x="48.6" y="91.5" width="61.1" height="57.5" fill="#fff" stroke="#3a3a3a" stroke-width="1"/>
<path d="M53,102.5 H90.2" stroke="#0A6CC4" stroke-width="3.1"/>
<text x="93.2" y="104.5" font-size="10.3" font-weight="bold" fill="#000">P<tspan dx="0.3" dy="5.6" font-size="8.2">1</tspan></text>
<path d="M53,120.7 H90.2" stroke="#FA4A08" stroke-width="3.1"/>
<text x="93.2" y="122.7" font-size="10.3" font-weight="bold" fill="#000">P<tspan dx="0.3" dy="5.6" font-size="8.2">2</tspan></text>
<path d="M53,138.8 H90.2" stroke="#FFAA00" stroke-width="3.1"/>
<text x="93.2" y="140.8" font-size="10.3" font-weight="bold" fill="#000">P<tspan dx="0.3" dy="5.6" font-size="8.2">3</tspan></text>
<text x="103.4" y="163.6" font-size="11.15" letter-spacing="-0.12" text-anchor="middle" fill="#1a1a1a" stroke="#1a1a1a" stroke-width="0.2">100</text>
<text x="165.6" y="163.6" font-size="11.15" letter-spacing="-0.12" text-anchor="middle" fill="#1a1a1a" stroke="#1a1a1a" stroke-width="0.2">200</text>
<text x="227.8" y="163.6" font-size="11.15" letter-spacing="-0.12" text-anchor="middle" fill="#1a1a1a" stroke="#1a1a1a" stroke-width="0.2">300</text>
<text x="290.0" y="163.6" font-size="11.15" letter-spacing="-0.12" text-anchor="middle" fill="#1a1a1a" stroke="#1a1a1a" stroke-width="0.2">400</text>
<text x="352.3" y="163.6" font-size="11.15" letter-spacing="-0.12" text-anchor="middle" fill="#1a1a1a" stroke="#1a1a1a" stroke-width="0.2">500</text>
<text x="414.5" y="163.6" font-size="11.15" letter-spacing="-0.12" text-anchor="middle" fill="#1a1a1a" stroke="#1a1a1a" stroke-width="0.2">600</text>
<text x="44.8" y="154.0" font-size="11.1" letter-spacing="-0.1" text-anchor="end" fill="#1a1a1a" stroke="#1a1a1a" stroke-width="0.2">0</text>
<text x="44.8" y="128.2" font-size="11.1" letter-spacing="-0.1" text-anchor="end" fill="#1a1a1a" stroke="#1a1a1a" stroke-width="0.2">1</text>
<text x="44.8" y="102.4" font-size="11.1" letter-spacing="-0.1" text-anchor="end" fill="#1a1a1a" stroke="#1a1a1a" stroke-width="0.2">2</text>
<text x="44.8" y="76.7" font-size="11.1" letter-spacing="-0.1" text-anchor="end" fill="#1a1a1a" stroke="#1a1a1a" stroke-width="0.2">3</text>
<text x="44.8" y="50.9" font-size="11.1" letter-spacing="-0.1" text-anchor="end" fill="#1a1a1a" stroke="#1a1a1a" stroke-width="0.2">4</text>
<text x="44.8" y="25.1" font-size="11.1" letter-spacing="-0.1" text-anchor="end" fill="#1a1a1a" stroke="#1a1a1a" stroke-width="0.2">5</text>
<text font-size="10.9" fill="#1a1a1a" stroke="#1a1a1a" stroke-width="0.15"><tspan x="47.9" y="19.2" font-size="13.4">×</tspan><tspan x="57.2" y="17.6">10</tspan><tspan x="68.8" y="13.0" font-size="8.4">8</tspan></text>
<text x="231.3" y="15.2" font-size="13.95" font-weight="bold" text-anchor="middle" fill="#000">(a) Active power</text>
<text transform="translate(32.8,103.7) rotate(-90) scale(1.05,1)" font-size="14.3" fill="#1a1a1a">P</text>
<text transform="translate(32.8,88.7) rotate(-90) scale(1.035,1)" font-size="14.3" fill="#1a1a1a">[W]</text>
<path d="M103.86,200.5 V329.3 M166.08,200.5 V329.3 M228.31,200.5 V329.3 M290.54,200.5 V329.3 M352.77,200.5 V329.3" stroke="#262626" stroke-opacity="0.085" stroke-width="1.15" fill="none"/>
<path d="M47.85,286.37 H415.0 M47.85,243.43 H415.0" stroke="#262626" stroke-opacity="0.085" stroke-width="1.15" fill="none"/>
<path d="M103.86,329.3 v-3.7 M103.86,200.5 v3.7 M166.08,329.3 v-3.7 M166.08,200.5 v3.7 M228.31,329.3 v-3.7 M228.31,200.5 v3.7 M290.54,329.3 v-3.7 M290.54,200.5 v3.7 M352.77,329.3 v-3.7 M352.77,200.5 v3.7 M47.85,286.37 h3.7 M415.0,286.37 h-3.7 M47.85,243.43 h3.7 M415.0,243.43 h-3.7" stroke="#3a3a3a" stroke-width="1" fill="none"/>
<rect x="47.85" y="200.5" width="367.15" height="128.8" fill="none" stroke="#3a3a3a" stroke-width="1"/>
<g clip-path="url(#c1)" fill="none" stroke-width="3.1" stroke-linejoin="round" stroke-linecap="round">
<path d="M48.0,301.4 L48.5,301.4 L49.0,301.3 L49.5,301.1 L50.0,300.9 L50.5,300.7 L51.0,300.3 L51.5,299.7 L52.0,299.1 L52.5,298.6 L53.0,298.4 L53.5,298.3 L54.0,298.3 L54.5,298.3 L55.0,298.3 L55.5,298.2 L56.0,298.2 L56.5,298.0 L57.0,297.7 L57.5,297.2 L58.0,296.7 L58.5,296.2 L59.0,295.8 L59.5,295.3 L60.0,294.8 L60.5,294.3 L61.0,294.1 L61.5,293.9 L62.0,293.8 L62.5,293.8 L63.0,293.9 L63.5,294.2 L64.0,294.5 L64.5,294.9 L65.0,295.3 L65.5,295.6 L66.0,295.7 L66.5,295.7 L67.0,295.6 L67.5,295.4 L68.0,295.2 L68.5,295.0 L69.0,294.8 L69.5,294.5 L70.0,294.3 L70.5,294.0 L71.0,293.6 L71.5,293.3 L72.0,292.9 L72.5,292.5 L73.0,292.0 L73.5,291.7 L74.0,291.7 L74.5,292.0 L75.0,292.6 L75.5,293.3 L76.0,293.9 L76.5,294.7 L77.0,295.4 L77.5,295.8 L78.0,296.1 L78.5,296.2 L79.0,296.4 L79.5,296.6 L80.0,296.8 L80.5,297.2 L81.0,297.7 L81.5,298.2 L82.0,298.6 L82.5,299.0 L83.0,299.3 L83.5,299.5 L84.0,299.6 L84.5,299.8 L85.0,299.9 L85.5,300.0 L86.0,300.1 L86.5,300.3 L87.0,300.4 L87.5,300.6 L88.0,300.9 L88.5,301.2 L89.0,301.5 L89.5,301.8 L90.0,302.1 L90.5,302.3 L91.0,302.5 L91.5,302.7 L92.0,302.8 L92.5,302.8 L93.0,302.8 L93.5,302.7 L94.0,302.6 L94.5,302.5 L95.0,302.3 L95.5,302.2 L96.0,301.8 L96.5,301.4 L97.0,300.9 L97.5,300.3 L98.0,299.8 L98.5,299.3 L99.0,298.8 L99.5,298.2 L100.0,297.7 L100.5,297.2 L101.0,296.8 L101.5,296.4 L102.0,296.1 L102.5,296.0 L103.0,295.9 L103.5,295.8 L104.0,295.9 L104.5,296.3 L105.0,296.8 L105.5,297.3 L106.0,297.7 L106.5,298.2 L107.0,298.7 L107.5,299.2 L108.0,299.6 L108.5,299.9 L109.0,300.1 L109.5,300.2 L110.0,300.4 L110.5,300.5 L111.0,300.6 L111.5,300.6 L112.0,300.7 L112.5,300.7 L113.0,300.6 L113.5,300.4 L114.0,300.2 L114.5,299.9 L115.0,299.7 L115.5,299.6 L116.0,299.5 L116.5,299.4 L117.0,299.3 L117.5,299.2 L118.0,299.1 L118.5,299.1 L119.0,299.1 L119.5,299.2 L120.0,299.5 L120.5,299.9 L121.0,300.3 L121.5,300.6 L122.0,300.7 L122.5,300.8 L123.0,300.8 L123.5,300.9 L124.0,300.9 L124.5,300.9 L125.0,301.0 L125.5,301.1 L126.0,301.2 L126.5,301.5 L127.0,301.9 L127.5,302.3 L128.0,302.7 L128.5,303.0 L129.0,303.3 L129.5,303.6 L130.0,303.9 L130.5,304.1 L131.0,304.3 L131.5,304.3 L132.0,304.2 L132.5,304.0 L133.0,303.8 L133.5,303.6 L134.0,303.5 L134.5,303.5 L135.0,303.5 L135.5,303.5 L136.0,303.6 L136.5,303.6 L137.0,303.7 L137.5,303.7 L138.0,303.8 L138.5,303.8 L139.0,303.7 L139.5,303.7 L140.0,303.6 L140.5,303.5 L141.0,303.4 L141.5,303.2 L142.0,303.0 L142.5,302.8 L143.0,302.6 L143.5,302.1 L144.0,301.4 L144.5,300.7 L145.0,299.9 L145.5,299.3 L146.0,298.9 L146.5,298.6 L147.0,298.2 L147.5,297.9 L148.0,297.7 L148.5,297.7 L149.0,297.7 L149.5,297.8 L150.0,297.9 L150.5,298.0 L151.0,298.0 L151.5,298.0 L152.0,297.9 L152.5,297.9 L153.0,297.9 L153.5,297.8 L154.0,297.9 L154.5,297.9 L155.0,298.1 L155.5,298.4 L156.0,298.6 L156.5,298.8 L157.0,299.0 L157.5,299.3 L158.0,299.5 L158.5,299.8 L159.0,300.1 L159.5,300.4 L160.0,300.7 L160.5,300.9 L161.0,300.9 L161.5,300.8 L162.0,300.5 L162.5,300.2 L163.0,299.9 L163.5,299.7 L164.0,299.6 L164.5,299.6 L165.0,299.7 L165.5,299.7 L166.0,299.8 L166.5,299.8 L167.0,299.9 L167.5,300.0 L168.0,300.1 L168.5,300.3 L169.0,300.6 L169.5,300.9 L170.0,301.2 L170.5,301.4 L171.0,301.8 L171.5,302.2 L172.0,302.6 L172.5,303.0 L173.0,303.3 L173.5,303.7 L174.0,304.0 L174.5,304.3 L175.0,304.6 L175.5,304.9 L176.0,305.2 L176.5,305.4 L177.0,305.6 L177.5,305.8 L178.0,305.9 L178.5,305.9 L179.0,305.8 L179.5,305.6 L180.0,305.4 L180.5,305.1 L181.0,304.7 L181.5,304.2 L182.0,303.6 L182.5,303.0 L183.0,302.3 L183.5,301.8 L184.0,301.2 L184.5,300.7 L185.0,300.1 L185.5,299.6 L186.0,299.0 L186.5,298.4 L187.0,297.8 L187.5,297.2 L188.0,296.6 L188.5,295.9 L189.0,295.4 L189.5,294.8 L190.0,294.1 L190.5,293.5 L191.0,293.1 L191.5,293.0 L192.0,293.0 L192.5,293.1 L193.0,293.1 L193.5,293.1 L194.0,293.0 L194.5,292.7 L195.0,292.4 L195.5,292.1 L196.0,291.7 L196.5,291.5 L197.0,291.4 L197.5,291.6 L198.0,292.1 L198.5,292.7 L199.0,293.3 L199.5,294.1 L200.0,294.8 L200.5,295.4 L201.0,296.0 L201.5,296.5 L202.0,296.8 L202.5,297.0 L203.0,297.2 L203.5,297.4 L204.0,297.8 L204.5,298.2 L205.0,298.7 L205.5,299.2 L206.0,299.7 L206.5,300.2 L207.0,300.6 L207.5,301.0 L208.0,301.4 L208.5,301.8 L209.0,302.1 L209.5,302.5 L210.0,302.8 L210.5,303.1 L211.0,303.3 L211.5,303.5 L212.0,303.7 L212.5,303.8 L213.0,304.0 L213.5,304.1 L214.0,304.1 L214.5,304.1 L215.0,304.0 L215.5,303.8 L216.0,303.7 L216.5,303.6 L217.0,303.6 L217.5,303.8 L218.0,303.9 L218.5,304.0 L219.0,303.9 L219.5,303.5 L220.0,302.9 L220.5,302.2 L221.0,301.8 L221.5,301.5 L222.0,301.2 L222.5,300.9 L223.0,300.7 L223.5,300.5 L224.0,300.5 L224.5,300.6 L225.0,300.7 L225.5,300.8 L226.0,300.9 L226.5,301.0 L227.0,301.1 L227.5,301.3 L228.0,301.4 L228.5,301.5 L229.0,301.6 L229.5,301.6 L230.0,301.4 L230.5,301.0 L231.0,300.6 L231.5,300.1 L232.0,299.4 L232.5,298.6 L233.0,297.9 L233.5,297.4 L234.0,297.0 L234.5,296.7 L235.0,296.4 L235.5,296.1 L236.0,295.9 L236.5,295.6 L237.0,295.4 L237.5,295.2 L238.0,294.9 L238.5,294.6 L239.0,294.4 L239.5,294.2 L240.0,294.1 L240.5,294.0 L241.0,294.2 L241.5,294.4 L242.0,294.5 L242.5,294.6 L243.0,294.6 L243.5,294.4 L244.0,294.3 L244.5,294.3 L245.0,294.4 L245.5,294.5 L246.0,294.8 L246.5,294.9 L247.0,295.0 L247.5,294.8 L248.0,294.3 L248.5,293.8 L249.0,293.3 L249.5,292.8 L250.0,292.3 L250.5,291.9 L251.0,291.6 L251.5,291.2 L252.0,290.9 L252.5,290.7 L253.0,290.6 L253.5,290.5 L254.0,290.4 L254.5,290.3 L255.0,290.2 L255.5,290.2 L256.0,290.3 L256.5,290.5 L257.0,290.8 L257.5,291.1 L258.0,291.3 L258.5,291.5 L259.0,291.6 L259.5,291.7 L260.0,291.7 L260.5,291.7 L261.0,291.7 L261.5,291.6 L262.0,291.3 L262.5,291.0 L263.0,290.6 L263.5,290.2 L264.0,289.7 L264.5,289.1 L265.0,288.7 L265.5,288.7 L266.0,288.8 L266.5,289.0 L267.0,289.6 L267.5,290.8 L268.0,291.8 L268.5,292.6 L269.0,293.3 L269.5,294.0 L270.0,294.5 L270.5,294.9 L271.0,295.2 L271.5,295.5 L272.0,295.8 L272.5,296.0 L273.0,296.2 L273.5,296.4 L274.0,296.6 L274.5,296.8 L275.0,297.0 L275.5,297.1 L276.0,297.3 L276.5,297.5 L277.0,297.8 L277.5,298.1 L278.0,298.4 L278.5,298.6 L279.0,298.7 L279.5,298.6 L280.0,298.5 L280.5,298.3 L281.0,298.1 L281.5,297.9 L282.0,297.7 L282.5,297.5 L283.0,297.2 L283.5,296.9 L284.0,296.7 L284.5,296.6 L285.0,296.7 L285.5,297.0 L286.0,297.3 L286.5,297.5 L287.0,297.3 L287.5,296.8 L288.0,296.4 L288.5,296.2 L289.0,296.1 L289.5,296.0 L290.0,296.0 L290.5,296.0 L291.0,295.9 L291.5,295.7 L292.0,295.4 L292.5,295.0 L293.0,294.5 L293.5,294.0 L294.0,293.6 L294.5,293.2 L295.0,292.9 L295.5,292.5 L296.0,292.2 L296.5,291.9 L297.0,291.6 L297.5,291.4 L298.0,291.1 L298.5,290.8 L299.0,290.6 L299.5,290.4 L300.0,290.3 L300.5,290.1 L301.0,290.0 L301.5,289.9 L302.0,289.9 L302.5,290.2 L303.0,290.5 L303.5,291.0 L304.0,291.4 L304.5,291.7 L305.0,292.1 L305.5,292.5 L306.0,292.9 L306.5,293.3 L307.0,293.6 L307.5,294.1 L308.0,294.4 L308.5,294.6 L309.0,294.6 L309.5,294.5 L310.0,294.4 L310.5,294.3 L311.0,294.2 L311.5,294.2 L312.0,294.2 L312.5,294.2 L313.0,294.2 L313.5,294.2 L314.0,294.2 L314.5,294.2 L315.0,294.3 L315.5,294.4 L316.0,294.6 L316.5,294.7 L317.0,294.8 L317.5,294.9 L318.0,294.9 L318.5,294.8 L319.0,294.7 L319.5,294.6 L320.0,294.5 L320.5,294.2 L321.0,293.7 L321.5,293.1 L322.0,292.6 L322.5,292.1 L323.0,291.6 L323.5,291.1 L324.0,290.7 L324.5,290.5 L325.0,290.3 L325.5,290.1 L326.0,290.1 L326.5,290.2 L327.0,290.5 L327.5,291.0 L328.0,291.4 L328.5,291.9 L329.0,292.4 L329.5,293.0 L330.0,293.4 L330.5,293.5 L331.0,293.7 L331.5,293.8 L332.0,293.8 L332.5,293.8 L333.0,293.8 L333.5,293.7 L334.0,293.5 L334.5,293.3 L335.0,293.1 L335.5,293.0 L336.0,292.8 L336.5,292.7 L337.0,292.5 L337.5,292.3 L338.0,292.1 L338.5,291.8 L339.0,291.4 L339.5,290.9 L340.0,290.3 L340.5,289.8 L341.0,289.3 L341.5,288.9 L342.0,288.5 L342.5,288.1 L343.0,287.8 L343.5,287.6 L344.0,287.4 L344.5,287.3 L345.0,287.3 L345.5,287.2 L346.0,287.3 L346.5,287.4 L347.0,287.5 L347.5,287.6 L348.0,287.8 L348.5,288.0 L349.0,288.2 L349.5,288.4 L350.0,288.6 L350.5,288.8 L351.0,288.7 L351.5,288.1 L352.0,287.1 L352.5,286.2 L353.0,285.0 L353.5,283.9 L354.0,282.8 L354.5,281.9 L355.0,281.2 L355.5,280.7 L356.0,280.6 L356.5,280.5 L357.0,280.5 L357.5,280.5 L358.0,280.5 L358.5,280.5 L359.0,280.5 L359.5,280.5 L360.0,280.5 L360.5,280.5 L361.0,280.5 L361.5,280.5 L362.0,280.5 L362.5,280.5 L363.0,280.5 L363.5,280.5 L364.0,280.6 L364.5,280.8 L365.0,281.5 L365.5,282.4 L366.0,283.7 L366.5,284.8 L367.0,285.7 L367.5,286.4 L368.0,286.7 L368.5,286.9 L369.0,287.1 L369.5,287.1 L370.0,287.1 L370.5,287.1 L371.0,287.0 L371.5,287.0 L372.0,286.9 L372.5,286.9 L373.0,286.9 L373.5,286.9 L374.0,287.0 L374.5,287.1 L375.0,287.2 L375.5,287.3 L376.0,287.5 L376.5,287.7 L377.0,287.9 L377.5,288.1 L378.0,288.4 L378.5,288.7 L379.0,289.0 L379.5,289.4 L380.0,289.9 L380.5,290.5 L381.0,291.1 L381.5,291.9 L382.0,292.8 L382.5,293.8 L383.0,294.8 L383.5,295.8 L384.0,296.9 L384.5,298.0 L385.0,298.8 L385.5,299.4 L386.0,299.9 L386.5,300.3 L387.0,300.7 L387.5,301.0 L388.0,301.3 L388.5,301.6 L389.0,301.9 L389.5,302.1 L390.0,302.2 L390.5,302.2 L391.0,302.2 L391.5,302.1 L392.0,302.0 L392.5,301.9 L393.0,301.8 L393.5,301.8 L394.0,301.8 L394.5,301.9 L395.0,301.9 L395.5,301.9 L396.0,301.8 L396.5,301.4 L397.0,300.9 L397.5,300.4 L398.0,300.0 L398.5,299.6 L399.0,299.2 L399.5,298.8 L400.0,298.7 L400.5,298.6 L401.0,298.5 L401.5,298.5 L402.0,298.4 L402.5,298.4 L403.0,298.4 L403.5,298.5 L404.0,298.9 L404.5,299.4 L405.0,299.9 L405.5,300.4 L406.0,300.9 L406.5,301.3 L407.0,301.7 L407.5,301.8 L408.0,301.9 L408.5,302.0 L409.0,302.1 L409.5,302.2 L410.0,302.2 L410.5,302.3 L411.0,302.3 L411.5,302.4 L412.0,302.4 L412.5,302.4 L413.0,302.4 L413.5,302.4 L414.0,302.3 L414.5,302.1 L415.0,302.0" stroke="#0A6CC4"/>
<path d="M48.0,287.5 L48.5,287.4 L49.0,287.3 L49.5,287.0 L50.0,286.7 L50.5,286.4 L51.0,285.8 L51.5,285.0 L52.0,284.0 L52.5,283.2 L53.0,282.9 L53.5,282.8 L54.0,282.8 L54.5,282.8 L55.0,282.8 L55.5,282.7 L56.0,282.6 L56.5,282.4 L57.0,281.8 L57.5,281.2 L58.0,280.4 L58.5,279.7 L59.0,279.0 L59.5,278.3 L60.0,277.5 L60.5,276.8 L61.0,276.5 L61.5,276.3 L62.0,276.1 L62.5,276.1 L63.0,276.2 L63.5,276.6 L64.0,277.1 L64.5,277.7 L65.0,278.3 L65.5,278.7 L66.0,278.9 L66.5,278.9 L67.0,278.7 L67.5,278.5 L68.0,278.2 L68.5,277.9 L69.0,277.5 L69.5,277.2 L70.0,276.8 L70.5,276.3 L71.0,275.8 L71.5,275.3 L72.0,274.7 L72.5,274.1 L73.0,273.4 L73.5,272.9 L74.0,272.9 L74.5,273.4 L75.0,274.3 L75.5,275.2 L76.0,276.3 L76.5,277.5 L77.0,278.5 L77.5,279.1 L78.0,279.4 L78.5,279.7 L79.0,279.9 L79.5,280.2 L80.0,280.6 L80.5,281.1 L81.0,281.8 L81.5,282.6 L82.0,283.3 L82.5,283.9 L83.0,284.2 L83.5,284.5 L84.0,284.8 L84.5,285.0 L85.0,285.2 L85.5,285.3 L86.0,285.5 L86.5,285.7 L87.0,286.0 L87.5,286.3 L88.0,286.7 L88.5,287.2 L89.0,287.7 L89.5,288.1 L90.0,288.5 L90.5,288.8 L91.0,289.1 L91.5,289.4 L92.0,289.6 L92.5,289.6 L93.0,289.5 L93.5,289.4 L94.0,289.3 L94.5,289.1 L95.0,288.9 L95.5,288.6 L96.0,288.1 L96.5,287.4 L97.0,286.7 L97.5,285.9 L98.0,285.1 L98.5,284.3 L99.0,283.5 L99.5,282.7 L100.0,281.9 L100.5,281.1 L101.0,280.5 L101.5,280.0 L102.0,279.6 L102.5,279.3 L103.0,279.2 L103.5,279.1 L104.0,279.3 L104.5,279.8 L105.0,280.5 L105.5,281.3 L106.0,281.9 L106.5,282.6 L107.0,283.4 L107.5,284.1 L108.0,284.8 L108.5,285.2 L109.0,285.5 L109.5,285.7 L110.0,285.9 L110.5,286.1 L111.0,286.2 L111.5,286.3 L112.0,286.4 L112.5,286.4 L113.0,286.2 L113.5,286.0 L114.0,285.6 L114.5,285.2 L115.0,284.9 L115.5,284.7 L116.0,284.5 L116.5,284.4 L117.0,284.2 L117.5,284.1 L118.0,284.0 L118.5,284.0 L119.0,284.0 L119.5,284.2 L120.0,284.7 L120.5,285.3 L121.0,285.8 L121.5,286.3 L122.0,286.4 L122.5,286.5 L123.0,286.6 L123.5,286.6 L124.0,286.7 L124.5,286.8 L125.0,286.8 L125.5,286.9 L126.0,287.2 L126.5,287.7 L127.0,288.2 L127.5,288.8 L128.0,289.4 L128.5,289.9 L129.0,290.3 L129.5,290.8 L130.0,291.2 L130.5,291.5 L131.0,291.7 L131.5,291.8 L132.0,291.6 L132.5,291.3 L133.0,291.0 L133.5,290.7 L134.0,290.6 L134.5,290.6 L135.0,290.6 L135.5,290.6 L136.0,290.7 L136.5,290.8 L137.0,290.9 L137.5,290.9 L138.0,291.0 L138.5,291.0 L139.0,291.0 L139.5,290.9 L140.0,290.8 L140.5,290.6 L141.0,290.4 L141.5,290.1 L142.0,289.9 L142.5,289.6 L143.0,289.2 L143.5,288.5 L144.0,287.5 L144.5,286.3 L145.0,285.3 L145.5,284.4 L146.0,283.8 L146.5,283.2 L147.0,282.7 L147.5,282.2 L148.0,281.9 L148.5,281.8 L149.0,281.9 L149.5,282.0 L150.0,282.2 L150.5,282.3 L151.0,282.3 L151.5,282.3 L152.0,282.3 L152.5,282.2 L153.0,282.2 L153.5,282.1 L154.0,282.1 L154.5,282.3 L155.0,282.5 L155.5,282.9 L156.0,283.2 L156.5,283.6 L157.0,283.9 L157.5,284.2 L158.0,284.6 L158.5,285.0 L159.0,285.5 L159.5,286.0 L160.0,286.4 L160.5,286.7 L161.0,286.7 L161.5,286.5 L162.0,286.1 L162.5,285.7 L163.0,285.2 L163.5,284.9 L164.0,284.8 L164.5,284.8 L165.0,284.8 L165.5,284.9 L166.0,285.0 L166.5,285.1 L167.0,285.2 L167.5,285.4 L168.0,285.6 L168.5,285.9 L169.0,286.2 L169.5,286.6 L170.0,287.1 L170.5,287.5 L171.0,288.0 L171.5,288.6 L172.0,289.2 L172.5,289.8 L173.0,290.3 L173.5,290.9 L174.0,291.4 L174.5,291.8 L175.0,292.3 L175.5,292.7 L176.0,293.1 L176.5,293.4 L177.0,293.7 L177.5,294.0 L178.0,294.2 L178.5,294.2 L179.0,294.0 L179.5,293.8 L180.0,293.4 L180.5,293.0 L181.0,292.5 L181.5,291.7 L182.0,290.8 L182.5,289.8 L183.0,288.9 L183.5,288.0 L184.0,287.2 L184.5,286.4 L185.0,285.5 L185.5,284.7 L186.0,283.9 L186.5,283.0 L187.0,282.1 L187.5,281.1 L188.0,280.2 L188.5,279.3 L189.0,278.4 L189.5,277.5 L190.0,276.6 L190.5,275.7 L191.0,275.0 L191.5,274.8 L192.0,274.9 L192.5,275.0 L193.0,275.0 L193.5,275.1 L194.0,274.9 L194.5,274.5 L195.0,274.0 L195.5,273.5 L196.0,273.0 L196.5,272.5 L197.0,272.4 L197.5,272.8 L198.0,273.6 L198.5,274.3 L199.0,275.3 L199.5,276.4 L200.0,277.5 L200.5,278.4 L201.0,279.4 L201.5,280.1 L202.0,280.5 L202.5,280.8 L203.0,281.1 L203.5,281.5 L204.0,282.0 L204.5,282.6 L205.0,283.4 L205.5,284.1 L206.0,284.9 L206.5,285.6 L207.0,286.2 L207.5,286.8 L208.0,287.4 L208.5,288.0 L209.0,288.6 L209.5,289.1 L210.0,289.5 L210.5,289.9 L211.0,290.3 L211.5,290.6 L212.0,290.9 L212.5,291.1 L213.0,291.3 L213.5,291.4 L214.0,291.5 L214.5,291.5 L215.0,291.4 L215.5,291.1 L216.0,290.8 L216.5,290.7 L217.0,290.8 L217.5,291.0 L218.0,291.2 L218.5,291.4 L219.0,291.3 L219.5,290.6 L220.0,289.6 L220.5,288.7 L221.0,288.1 L221.5,287.6 L222.0,287.1 L222.5,286.7 L223.0,286.3 L223.5,286.1 L224.0,286.1 L224.5,286.2 L225.0,286.3 L225.5,286.5 L226.0,286.7 L226.5,286.9 L227.0,287.0 L227.5,287.3 L228.0,287.5 L228.5,287.7 L229.0,287.8 L229.5,287.7 L230.0,287.4 L230.5,286.8 L231.0,286.2 L231.5,285.5 L232.0,284.4 L232.5,283.2 L233.0,282.1 L233.5,281.4 L234.0,280.9 L234.5,280.4 L235.0,280.0 L235.5,279.6 L236.0,279.2 L236.5,278.8 L237.0,278.4 L237.5,278.1 L238.0,277.7 L238.5,277.3 L239.0,276.9 L239.5,276.6 L240.0,276.4 L240.5,276.4 L241.0,276.6 L241.5,276.9 L242.0,277.2 L242.5,277.3 L243.0,277.2 L243.5,277.0 L244.0,276.8 L244.5,276.7 L245.0,276.9 L245.5,277.2 L246.0,277.5 L246.5,277.7 L247.0,277.8 L247.5,277.5 L248.0,276.8 L248.5,276.0 L249.0,275.3 L249.5,274.5 L250.0,273.8 L250.5,273.2 L251.0,272.7 L251.5,272.2 L252.0,271.8 L252.5,271.4 L253.0,271.2 L253.5,271.0 L254.0,270.9 L254.5,270.7 L255.0,270.7 L255.5,270.6 L256.0,270.7 L256.5,271.1 L257.0,271.5 L257.5,271.9 L258.0,272.3 L258.5,272.6 L259.0,272.7 L259.5,272.8 L260.0,272.9 L260.5,272.9 L261.0,273.0 L261.5,272.8 L262.0,272.3 L262.5,271.8 L263.0,271.3 L263.5,270.7 L264.0,269.8 L264.5,269.0 L265.0,268.5 L265.5,268.4 L266.0,268.5 L266.5,268.8 L267.0,269.8 L267.5,271.6 L268.0,273.0 L268.5,274.2 L269.0,275.3 L269.5,276.3 L270.0,277.1 L270.5,277.7 L271.0,278.2 L271.5,278.6 L272.0,279.0 L272.5,279.3 L273.0,279.7 L273.5,280.0 L274.0,280.3 L274.5,280.5 L275.0,280.8 L275.5,281.0 L276.0,281.3 L276.5,281.6 L277.0,282.0 L277.5,282.5 L278.0,283.0 L278.5,283.3 L279.0,283.3 L279.5,283.2 L280.0,283.0 L280.5,282.8 L281.0,282.5 L281.5,282.2 L282.0,281.9 L282.5,281.5 L283.0,281.1 L283.5,280.7 L284.0,280.4 L284.5,280.2 L285.0,280.4 L285.5,280.8 L286.0,281.3 L286.5,281.6 L287.0,281.2 L287.5,280.5 L288.0,279.9 L288.5,279.6 L289.0,279.5 L289.5,279.4 L290.0,279.4 L290.5,279.3 L291.0,279.2 L291.5,279.0 L292.0,278.5 L292.5,277.9 L293.0,277.1 L293.5,276.4 L294.0,275.7 L294.5,275.2 L295.0,274.7 L295.5,274.2 L296.0,273.7 L296.5,273.2 L297.0,272.8 L297.5,272.4 L298.0,272.0 L298.5,271.6 L299.0,271.3 L299.5,271.0 L300.0,270.8 L300.5,270.6 L301.0,270.4 L301.5,270.3 L302.0,270.3 L302.5,270.6 L303.0,271.2 L303.5,271.8 L304.0,272.4 L304.5,273.0 L305.0,273.5 L305.5,274.1 L306.0,274.7 L306.5,275.2 L307.0,275.8 L307.5,276.4 L308.0,277.0 L308.5,277.2 L309.0,277.2 L309.5,277.1 L310.0,277.0 L310.5,276.8 L311.0,276.7 L311.5,276.7 L312.0,276.7 L312.5,276.7 L313.0,276.7 L313.5,276.7 L314.0,276.7 L314.5,276.7 L315.0,276.8 L315.5,277.0 L316.0,277.2 L316.5,277.4 L317.0,277.6 L317.5,277.7 L318.0,277.6 L318.5,277.6 L319.0,277.4 L319.5,277.3 L320.0,277.1 L320.5,276.7 L321.0,275.9 L321.5,275.0 L322.0,274.2 L322.5,273.5 L323.0,272.7 L323.5,272.0 L324.0,271.4 L324.5,271.1 L325.0,270.8 L325.5,270.6 L326.0,270.5 L326.5,270.6 L327.0,271.1 L327.5,271.8 L328.0,272.5 L328.5,273.2 L329.0,274.0 L329.5,274.8 L330.0,275.4 L330.5,275.6 L331.0,275.8 L331.5,276.0 L332.0,276.1 L332.5,276.1 L333.0,276.0 L333.5,275.9 L334.0,275.6 L334.5,275.3 L335.0,275.1 L335.5,274.8 L336.0,274.6 L336.5,274.3 L337.0,274.1 L337.5,273.8 L338.0,273.4 L338.5,273.0 L339.0,272.4 L339.5,271.7 L340.0,270.9 L340.5,270.1 L341.0,269.4 L341.5,268.7 L342.0,268.1 L342.5,267.4 L343.0,267.0 L343.5,266.7 L344.0,266.5 L344.5,266.3 L345.0,266.2 L345.5,266.2 L346.0,266.2 L346.5,266.4 L347.0,266.6 L347.5,266.8 L348.0,267.1 L348.5,267.3 L349.0,267.6 L349.5,268.0 L350.0,268.3 L350.5,268.5 L351.0,268.5 L351.5,267.5 L352.0,266.1 L352.5,264.6 L353.0,262.9 L353.5,261.2 L354.0,259.6 L354.5,258.2 L355.0,257.2 L355.5,256.4 L356.0,256.2 L356.5,256.1 L357.0,256.1 L357.5,256.1 L358.0,256.1 L358.5,256.1 L359.0,256.1 L359.5,256.1 L360.0,256.1 L360.5,256.1 L361.0,256.1 L361.5,256.1 L362.0,256.1 L362.5,256.1 L363.0,256.1 L363.5,256.1 L364.0,256.2 L364.5,256.5 L365.0,257.6 L365.5,259.0 L366.0,261.0 L366.5,262.5 L367.0,263.9 L367.5,265.0 L368.0,265.4 L368.5,265.7 L369.0,265.9 L369.5,266.0 L370.0,266.0 L370.5,265.9 L371.0,265.9 L371.5,265.8 L372.0,265.7 L372.5,265.7 L373.0,265.6 L373.5,265.7 L374.0,265.8 L374.5,265.9 L375.0,266.1 L375.5,266.4 L376.0,266.6 L376.5,266.8 L377.0,267.1 L377.5,267.5 L378.0,267.9 L378.5,268.3 L379.0,268.9 L379.5,269.4 L380.0,270.2 L380.5,271.0 L381.0,272.0 L381.5,273.2 L382.0,274.5 L382.5,276.0 L383.0,277.5 L383.5,279.0 L384.0,280.7 L384.5,282.3 L385.0,283.6 L385.5,284.5 L386.0,285.2 L386.5,285.8 L387.0,286.3 L387.5,286.8 L388.0,287.3 L388.5,287.7 L389.0,288.1 L389.5,288.5 L390.0,288.7 L390.5,288.7 L391.0,288.6 L391.5,288.5 L392.0,288.3 L392.5,288.2 L393.0,288.1 L393.5,288.1 L394.0,288.1 L394.5,288.1 L395.0,288.2 L395.5,288.2 L396.0,288.1 L396.5,287.5 L397.0,286.7 L397.5,285.9 L398.0,285.3 L398.5,284.7 L399.0,284.1 L399.5,283.6 L400.0,283.3 L400.5,283.2 L401.0,283.1 L401.5,283.1 L402.0,283.0 L402.5,283.0 L403.0,282.9 L403.5,283.1 L404.0,283.6 L404.5,284.5 L405.0,285.3 L405.5,285.9 L406.0,286.7 L406.5,287.3 L407.0,287.8 L407.5,288.1 L408.0,288.2 L408.5,288.4 L409.0,288.5 L409.5,288.6 L410.0,288.7 L410.5,288.7 L411.0,288.8 L411.5,288.9 L412.0,289.0 L412.5,289.0 L413.0,289.0 L413.5,288.9 L414.0,288.7 L414.5,288.5 L415.0,288.3" stroke="#FA4A08"/>
<path d="M48.0,259.6 L48.5,259.5 L49.0,259.3 L49.5,258.8 L50.0,258.3 L50.5,257.8 L51.0,256.8 L51.5,255.4 L52.0,253.8 L52.5,252.5 L53.0,252.0 L53.5,251.9 L54.0,251.8 L54.5,251.8 L55.0,251.7 L55.5,251.7 L56.0,251.5 L56.5,251.1 L57.0,250.2 L57.5,249.1 L58.0,247.8 L58.5,246.6 L59.0,245.5 L59.5,244.3 L60.0,243.0 L60.5,241.9 L61.0,241.2 L61.5,240.9 L62.0,240.7 L62.5,240.6 L63.0,240.8 L63.5,241.5 L64.0,242.4 L64.5,243.3 L65.0,244.2 L65.5,244.9 L66.0,245.3 L66.5,245.2 L67.0,245.0 L67.5,244.6 L68.0,244.1 L68.5,243.6 L69.0,243.0 L69.5,242.4 L70.0,241.8 L70.5,241.0 L71.0,240.1 L71.5,239.2 L72.0,238.4 L72.5,237.3 L73.0,236.1 L73.5,235.3 L74.0,235.2 L74.5,236.1 L75.0,237.6 L75.5,239.2 L76.0,240.9 L76.5,242.9 L77.0,244.6 L77.5,245.6 L78.0,246.2 L78.5,246.6 L79.0,247.0 L79.5,247.5 L80.0,248.1 L80.5,249.0 L81.0,250.2 L81.5,251.4 L82.0,252.6 L82.5,253.6 L83.0,254.2 L83.5,254.7 L84.0,255.1 L84.5,255.4 L85.0,255.7 L85.5,256.0 L86.0,256.3 L86.5,256.7 L87.0,257.1 L87.5,257.7 L88.0,258.3 L88.5,259.1 L89.0,259.9 L89.5,260.7 L90.0,261.3 L90.5,261.8 L91.0,262.3 L91.5,262.8 L92.0,263.1 L92.5,263.1 L93.0,263.0 L93.5,262.9 L94.0,262.6 L94.5,262.3 L95.0,261.9 L95.5,261.4 L96.0,260.6 L96.5,259.5 L97.0,258.2 L97.5,256.9 L98.0,255.6 L98.5,254.4 L99.0,253.0 L99.5,251.6 L100.0,250.2 L100.5,249.0 L101.0,248.0 L101.5,247.1 L102.0,246.4 L102.5,246.0 L103.0,245.8 L103.5,245.7 L104.0,245.9 L104.5,246.8 L105.0,248.0 L105.5,249.3 L106.0,250.3 L106.5,251.5 L107.0,252.8 L107.5,254.0 L108.0,255.1 L108.5,255.8 L109.0,256.3 L109.5,256.6 L110.0,257.0 L110.5,257.2 L111.0,257.5 L111.5,257.7 L112.0,257.8 L112.5,257.8 L113.0,257.5 L113.5,257.1 L114.0,256.5 L114.5,255.8 L115.0,255.3 L115.5,255.0 L116.0,254.7 L116.5,254.4 L117.0,254.2 L117.5,254.0 L118.0,253.8 L118.5,253.7 L119.0,253.7 L119.5,254.1 L120.0,254.9 L120.5,255.9 L121.0,256.8 L121.5,257.6 L122.0,257.9 L122.5,258.0 L123.0,258.1 L123.5,258.2 L124.0,258.3 L124.5,258.4 L125.0,258.5 L125.5,258.7 L126.0,259.1 L126.5,259.9 L127.0,260.8 L127.5,261.9 L128.0,262.8 L128.5,263.6 L129.0,264.3 L129.5,265.1 L130.0,265.8 L130.5,266.3 L131.0,266.7 L131.5,266.7 L132.0,266.5 L132.5,266.0 L133.0,265.5 L133.5,265.0 L134.0,264.7 L134.5,264.7 L135.0,264.8 L135.5,264.9 L136.0,265.0 L136.5,265.1 L137.0,265.3 L137.5,265.4 L138.0,265.4 L138.5,265.5 L139.0,265.4 L139.5,265.3 L140.0,265.1 L140.5,264.8 L141.0,264.5 L141.5,264.0 L142.0,263.6 L142.5,263.1 L143.0,262.5 L143.5,261.3 L144.0,259.6 L144.5,257.7 L145.0,255.9 L145.5,254.4 L146.0,253.4 L146.5,252.5 L147.0,251.6 L147.5,250.9 L148.0,250.4 L148.5,250.2 L149.0,250.3 L149.5,250.5 L150.0,250.8 L150.5,251.0 L151.0,251.0 L151.5,251.0 L152.0,250.9 L152.5,250.8 L153.0,250.7 L153.5,250.7 L154.0,250.7 L154.5,250.9 L155.0,251.4 L155.5,251.9 L156.0,252.5 L156.5,253.1 L157.0,253.6 L157.5,254.2 L158.0,254.8 L158.5,255.5 L159.0,256.3 L159.5,257.1 L160.0,257.8 L160.5,258.3 L161.0,258.3 L161.5,257.9 L162.0,257.3 L162.5,256.6 L163.0,255.9 L163.5,255.3 L164.0,255.1 L164.5,255.1 L165.0,255.2 L165.5,255.3 L166.0,255.5 L166.5,255.6 L167.0,255.8 L167.5,256.1 L168.0,256.4 L168.5,256.9 L169.0,257.5 L169.5,258.2 L170.0,258.9 L170.5,259.7 L171.0,260.5 L171.5,261.5 L172.0,262.5 L172.5,263.4 L173.0,264.4 L173.5,265.2 L174.0,266.1 L174.5,266.9 L175.0,267.7 L175.5,268.4 L176.0,269.0 L176.5,269.5 L177.0,270.0 L177.5,270.5 L178.0,270.8 L178.5,270.8 L179.0,270.5 L179.5,270.1 L180.0,269.5 L180.5,268.8 L181.0,267.9 L181.5,266.6 L182.0,265.1 L182.5,263.5 L183.0,261.9 L183.5,260.5 L184.0,259.1 L184.5,257.7 L185.0,256.4 L185.5,255.0 L186.0,253.6 L186.5,252.1 L187.0,250.6 L187.5,249.0 L188.0,247.4 L188.5,245.9 L189.0,244.5 L189.5,243.0 L190.0,241.4 L190.5,239.9 L191.0,238.8 L191.5,238.5 L192.0,238.6 L192.5,238.7 L193.0,238.9 L193.5,238.9 L194.0,238.6 L194.5,237.9 L195.0,237.2 L195.5,236.3 L196.0,235.4 L196.5,234.7 L197.0,234.5 L197.5,235.2 L198.0,236.4 L198.5,237.7 L199.0,239.3 L199.5,241.2 L200.0,242.9 L200.5,244.5 L201.0,246.1 L201.5,247.2 L202.0,248.0 L202.5,248.5 L203.0,249.0 L203.5,249.6 L204.0,250.4 L204.5,251.5 L205.0,252.7 L205.5,254.0 L206.0,255.3 L206.5,256.5 L207.0,257.5 L207.5,258.5 L208.0,259.5 L208.5,260.5 L209.0,261.4 L209.5,262.2 L210.0,263.0 L210.5,263.7 L211.0,264.3 L211.5,264.9 L212.0,265.3 L212.5,265.6 L213.0,265.9 L213.5,266.2 L214.0,266.3 L214.5,266.4 L215.0,266.1 L215.5,265.6 L216.0,265.2 L216.5,265.0 L217.0,265.1 L217.5,265.5 L218.0,265.8 L218.5,266.1 L219.0,265.9 L219.5,264.8 L220.0,263.2 L220.5,261.6 L221.0,260.6 L221.5,259.8 L222.0,259.0 L222.5,258.2 L223.0,257.7 L223.5,257.4 L224.0,257.3 L224.5,257.5 L225.0,257.7 L225.5,258.0 L226.0,258.3 L226.5,258.6 L227.0,258.9 L227.5,259.2 L228.0,259.6 L228.5,259.9 L229.0,260.1 L229.5,260.0 L230.0,259.4 L230.5,258.5 L231.0,257.5 L231.5,256.3 L232.0,254.5 L232.5,252.5 L233.0,250.7 L233.5,249.5 L234.0,248.6 L234.5,247.8 L235.0,247.1 L235.5,246.4 L236.0,245.7 L236.5,245.1 L237.0,244.5 L237.5,244.0 L238.0,243.3 L238.5,242.7 L239.0,242.0 L239.5,241.5 L240.0,241.2 L240.5,241.2 L241.0,241.5 L241.5,242.0 L242.0,242.4 L242.5,242.6 L243.0,242.5 L243.5,242.1 L244.0,241.8 L244.5,241.7 L245.0,241.9 L245.5,242.4 L246.0,242.9 L246.5,243.4 L247.0,243.5 L247.5,243.0 L248.0,241.8 L248.5,240.4 L249.0,239.3 L249.5,238.0 L250.0,236.9 L250.5,235.9 L251.0,235.0 L251.5,234.1 L252.0,233.4 L252.5,232.9 L253.0,232.5 L253.5,232.2 L254.0,231.9 L254.5,231.7 L255.0,231.6 L255.5,231.5 L256.0,231.7 L256.5,232.2 L257.0,232.9 L257.5,233.7 L258.0,234.4 L258.5,234.8 L259.0,235.0 L259.5,235.2 L260.0,235.3 L260.5,235.4 L261.0,235.4 L261.5,235.1 L262.0,234.4 L262.5,233.5 L263.0,232.6 L263.5,231.6 L264.0,230.2 L264.5,228.8 L265.0,227.9 L265.5,227.7 L266.0,228.0 L266.5,228.5 L267.0,230.2 L267.5,233.1 L268.0,235.5 L268.5,237.5 L269.0,239.4 L269.5,241.0 L270.0,242.3 L270.5,243.3 L271.0,244.1 L271.5,244.8 L272.0,245.4 L272.5,246.0 L273.0,246.6 L273.5,247.1 L274.0,247.6 L274.5,248.0 L275.0,248.4 L275.5,248.9 L276.0,249.3 L276.5,249.8 L277.0,250.5 L277.5,251.3 L278.0,252.1 L278.5,252.6 L279.0,252.7 L279.5,252.5 L280.0,252.2 L280.5,251.8 L281.0,251.3 L281.5,250.8 L282.0,250.4 L282.5,249.7 L283.0,249.0 L283.5,248.3 L284.0,247.8 L284.5,247.5 L285.0,247.8 L285.5,248.5 L286.0,249.4 L286.5,249.7 L287.0,249.2 L287.5,248.0 L288.0,246.9 L288.5,246.5 L289.0,246.3 L289.5,246.2 L290.0,246.1 L290.5,245.9 L291.0,245.8 L291.5,245.4 L292.0,244.6 L292.5,243.6 L293.0,242.3 L293.5,241.1 L294.0,240.0 L294.5,239.1 L295.0,238.2 L295.5,237.4 L296.0,236.6 L296.5,235.8 L297.0,235.1 L297.5,234.4 L298.0,233.8 L298.5,233.1 L299.0,232.6 L299.5,232.1 L300.0,231.7 L300.5,231.4 L301.0,231.1 L301.5,230.9 L302.0,230.9 L302.5,231.5 L303.0,232.4 L303.5,233.5 L304.0,234.5 L304.5,235.4 L305.0,236.4 L305.5,237.3 L306.0,238.3 L306.5,239.2 L307.0,240.2 L307.5,241.2 L308.0,242.1 L308.5,242.5 L309.0,242.5 L309.5,242.3 L310.0,242.1 L310.5,241.8 L311.0,241.7 L311.5,241.6 L312.0,241.6 L312.5,241.6 L313.0,241.6 L313.5,241.6 L314.0,241.6 L314.5,241.6 L315.0,241.7 L315.5,242.1 L316.0,242.5 L316.5,242.9 L317.0,243.2 L317.5,243.3 L318.0,243.2 L318.5,243.1 L319.0,242.9 L319.5,242.6 L320.0,242.3 L320.5,241.6 L321.0,240.4 L321.5,238.9 L322.0,237.5 L322.5,236.3 L323.0,235.0 L323.5,233.8 L324.0,232.9 L324.5,232.2 L325.0,231.8 L325.5,231.4 L326.0,231.2 L326.5,231.5 L327.0,232.3 L327.5,233.5 L328.0,234.6 L328.5,235.8 L329.0,237.2 L329.5,238.5 L330.0,239.4 L330.5,239.9 L331.0,240.2 L331.5,240.5 L332.0,240.6 L332.5,240.7 L333.0,240.5 L333.5,240.2 L334.0,239.8 L334.5,239.3 L335.0,238.9 L335.5,238.5 L336.0,238.1 L336.5,237.7 L337.0,237.3 L337.5,236.8 L338.0,236.2 L338.5,235.5 L339.0,234.5 L339.5,233.2 L340.0,231.9 L340.5,230.6 L341.0,229.4 L341.5,228.3 L342.0,227.2 L342.5,226.2 L343.0,225.4 L343.5,225.0 L344.0,224.6 L344.5,224.4 L345.0,224.2 L345.5,224.1 L346.0,224.2 L346.5,224.4 L347.0,224.8 L347.5,225.2 L348.0,225.6 L348.5,225.9 L349.0,226.5 L349.5,227.1 L350.0,227.6 L350.5,228.0 L351.0,227.9 L351.5,226.3 L352.0,223.9 L352.5,221.5 L353.0,218.6 L353.5,215.8 L354.0,213.2 L354.5,210.8 L355.0,209.1 L355.5,207.8 L356.0,207.4 L356.5,207.4 L357.0,207.4 L357.5,207.4 L358.0,207.4 L358.5,207.4 L359.0,207.4 L359.5,207.4 L360.0,207.4 L360.5,207.4 L361.0,207.4 L361.5,207.4 L362.0,207.4 L362.5,207.4 L363.0,207.4 L363.5,207.4 L364.0,207.5 L364.5,208.0 L365.0,209.7 L365.5,212.2 L366.0,215.4 L366.5,218.0 L367.0,220.4 L367.5,222.1 L368.0,222.8 L368.5,223.4 L369.0,223.7 L369.5,223.8 L370.0,223.8 L370.5,223.7 L371.0,223.6 L371.5,223.4 L372.0,223.3 L372.5,223.2 L373.0,223.2 L373.5,223.3 L374.0,223.4 L374.5,223.7 L375.0,224.0 L375.5,224.4 L376.0,224.8 L376.5,225.2 L377.0,225.7 L377.5,226.3 L378.0,226.9 L378.5,227.7 L379.0,228.6 L379.5,229.5 L380.0,230.7 L380.5,232.2 L381.0,233.9 L381.5,235.7 L382.0,238.0 L382.5,240.5 L383.0,243.0 L383.5,245.5 L384.0,248.3 L384.5,251.0 L385.0,253.1 L385.5,254.6 L386.0,255.8 L386.5,256.8 L387.0,257.7 L387.5,258.5 L388.0,259.2 L388.5,260.0 L389.0,260.7 L389.5,261.2 L390.0,261.6 L390.5,261.7 L391.0,261.5 L391.5,261.3 L392.0,261.0 L392.5,260.7 L393.0,260.6 L393.5,260.6 L394.0,260.6 L394.5,260.7 L395.0,260.8 L395.5,260.8 L396.0,260.6 L396.5,259.6 L397.0,258.3 L397.5,257.0 L398.0,255.9 L398.5,254.9 L399.0,253.9 L399.5,253.1 L400.0,252.7 L400.5,252.5 L401.0,252.4 L401.5,252.2 L402.0,252.1 L402.5,252.1 L403.0,252.0 L403.5,252.2 L404.0,253.2 L404.5,254.6 L405.0,255.9 L405.5,257.0 L406.0,258.2 L406.5,259.4 L407.0,260.2 L407.5,260.6 L408.0,260.9 L408.5,261.1 L409.0,261.3 L409.5,261.4 L410.0,261.6 L410.5,261.7 L411.0,261.8 L411.5,262.0 L412.0,262.1 L412.5,262.1 L413.0,262.1 L413.5,261.9 L414.0,261.7 L414.5,261.3 L415.0,260.9" stroke="#FFAA00"/>
</g>
<rect x="48.6" y="271.5" width="61.6" height="57.5" fill="#fff" stroke="#3a3a3a" stroke-width="1"/>
<path d="M53,282.1 H90.2" stroke="#0A6CC4" stroke-width="3.1"/>
<text x="92.7" y="283.5" font-size="10.0" font-weight="bold" fill="#000">I<tspan dx="0.6" dy="5.85" font-size="8.0">d1</tspan></text>
<path d="M53,300.2 H90.2" stroke="#FA4A08" stroke-width="3.1"/>
<text x="92.7" y="301.6" font-size="10.0" font-weight="bold" fill="#000">I<tspan dx="0.6" dy="5.85" font-size="8.0">d2</tspan></text>
<path d="M53,318.4 H90.2" stroke="#FFAA00" stroke-width="3.1"/>
<text x="92.7" y="319.8" font-size="10.0" font-weight="bold" fill="#000">I<tspan dx="0.6" dy="5.85" font-size="8.0">d3</tspan></text>
<text x="103.4" y="343.6" font-size="11.15" letter-spacing="-0.12" text-anchor="middle" fill="#1a1a1a" stroke="#1a1a1a" stroke-width="0.2">100</text>
<text x="165.6" y="343.6" font-size="11.15" letter-spacing="-0.12" text-anchor="middle" fill="#1a1a1a" stroke="#1a1a1a" stroke-width="0.2">200</text>
<text x="227.8" y="343.6" font-size="11.15" letter-spacing="-0.12" text-anchor="middle" fill="#1a1a1a" stroke="#1a1a1a" stroke-width="0.2">300</text>
<text x="290.0" y="343.6" font-size="11.15" letter-spacing="-0.12" text-anchor="middle" fill="#1a1a1a" stroke="#1a1a1a" stroke-width="0.2">400</text>
<text x="352.3" y="343.6" font-size="11.15" letter-spacing="-0.12" text-anchor="middle" fill="#1a1a1a" stroke="#1a1a1a" stroke-width="0.2">500</text>
<text x="414.5" y="343.6" font-size="11.15" letter-spacing="-0.12" text-anchor="middle" fill="#1a1a1a" stroke="#1a1a1a" stroke-width="0.2">600</text>
<text x="44.8" y="333.9" font-size="11.1" letter-spacing="-0.1" text-anchor="end" fill="#1a1a1a" stroke="#1a1a1a" stroke-width="0.2">0</text>
<text x="44.8" y="291.0" font-size="11.1" letter-spacing="-0.1" text-anchor="end" fill="#1a1a1a" stroke="#1a1a1a" stroke-width="0.2">5</text>
<text x="44.8" y="248.1" font-size="11.1" letter-spacing="-0.1" text-anchor="end" fill="#1a1a1a" stroke="#1a1a1a" stroke-width="0.2">10</text>
<text x="44.8" y="205.2" font-size="11.1" letter-spacing="-0.1" text-anchor="end" fill="#1a1a1a" stroke="#1a1a1a" stroke-width="0.2">15</text>
<text font-size="10.9" fill="#1a1a1a" stroke="#1a1a1a" stroke-width="0.15"><tspan x="47.9" y="199.2" font-size="13.4">×</tspan><tspan x="57.2" y="197.6">10</tspan><tspan x="68.8" y="193.0" font-size="8.4">4</tspan></text>
<text x="231.3" y="195.2" font-size="13.95" font-weight="bold" text-anchor="middle" fill="#000">(b) d-axis currents</text>
<text transform="translate(20.3,283.0) rotate(-90) scale(1,1)" font-size="14.3" fill="#1a1a1a">I</text>
<text transform="translate(28.0,278.6) rotate(-90) scale(1,1)" font-size="10.5" fill="#1a1a1a">d</text>
<text transform="translate(20.3,266.7) rotate(-90) scale(1.03,1)" font-size="14.3" fill="#1a1a1a">[A]</text>
<path d="M103.86,380.5 V510.3 M166.08,380.5 V510.3 M228.31,380.5 V510.3 M290.54,380.5 V510.3 M352.77,380.5 V510.3" stroke="#262626" stroke-opacity="0.085" stroke-width="1.15" fill="none"/>
<path d="M47.85,477.85 H415.0 M47.85,445.40 H415.0 M47.85,412.95 H415.0" stroke="#262626" stroke-opacity="0.085" stroke-width="1.15" fill="none"/>
<path d="M103.86,510.3 v-3.7 M103.86,380.5 v3.7 M166.08,510.3 v-3.7 M166.08,380.5 v3.7 M228.31,510.3 v-3.7 M228.31,380.5 v3.7 M290.54,510.3 v-3.7 M290.54,380.5 v3.7 M352.77,510.3 v-3.7 M352.77,380.5 v3.7 M47.85,477.85 h3.7 M415.0,477.85 h-3.7 M47.85,445.40 h3.7 M415.0,445.40 h-3.7 M47.85,412.95 h3.7 M415.0,412.95 h-3.7" stroke="#3a3a3a" stroke-width="1" fill="none"/>
<rect x="47.85" y="380.5" width="367.15" height="129.8" fill="none" stroke="#3a3a3a" stroke-width="1"/>
<g clip-path="url(#c2)" fill="none" stroke-width="3.1" stroke-linejoin="round" stroke-linecap="round">
<path d="M48.0,397.5 L48.5,397.5 L49.0,397.5 L49.5,397.4 L50.0,397.4 L50.5,397.4 L51.0,397.4 L51.5,397.3 L52.0,397.3 L52.5,397.2 L53.0,397.2 L53.5,397.2 L54.0,397.2 L54.5,397.2 L55.0,397.2 L55.5,397.2 L56.0,397.2 L56.5,397.2 L57.0,397.2 L57.5,397.1 L58.0,397.1 L58.5,397.1 L59.0,397.0 L59.5,397.0 L60.0,396.9 L60.5,396.9 L61.0,396.9 L61.5,396.9 L62.0,396.9 L62.5,396.9 L63.0,396.9 L63.5,396.9 L64.0,396.9 L64.5,397.0 L65.0,397.0 L65.5,397.0 L66.0,397.0 L66.5,397.0 L67.0,397.0 L67.5,397.0 L68.0,397.0 L68.5,397.0 L69.0,396.9 L69.5,396.9 L70.0,396.9 L70.5,396.9 L71.0,396.9 L71.5,396.8 L72.0,396.8 L72.5,396.8 L73.0,396.7 L73.5,396.7 L74.0,396.7 L74.5,396.7 L75.0,396.8 L75.5,396.8 L76.0,396.9 L76.5,396.9 L77.0,397.0 L77.5,397.0 L78.0,397.0 L78.5,397.1 L79.0,397.1 L79.5,397.1 L80.0,397.1 L80.5,397.1 L81.0,397.2 L81.5,397.2 L82.0,397.2 L82.5,397.3 L83.0,397.3 L83.5,397.3 L84.0,397.3 L84.5,397.3 L85.0,397.3 L85.5,397.4 L86.0,397.4 L86.5,397.4 L87.0,397.4 L87.5,397.4 L88.0,397.4 L88.5,397.5 L89.0,397.5 L89.5,397.5 L90.0,397.5 L90.5,397.5 L91.0,397.6 L91.5,397.6 L92.0,397.6 L92.5,397.6 L93.0,397.6 L93.5,397.6 L94.0,397.6 L94.5,397.6 L95.0,397.5 L95.5,397.5 L96.0,397.5 L96.5,397.5 L97.0,397.4 L97.5,397.4 L98.0,397.3 L98.5,397.3 L99.0,397.3 L99.5,397.2 L100.0,397.2 L100.5,397.1 L101.0,397.1 L101.5,397.1 L102.0,397.1 L102.5,397.0 L103.0,397.0 L103.5,397.0 L104.0,397.0 L104.5,397.1 L105.0,397.1 L105.5,397.1 L106.0,397.2 L106.5,397.2 L107.0,397.3 L107.5,397.3 L108.0,397.3 L108.5,397.4 L109.0,397.4 L109.5,397.4 L110.0,397.4 L110.5,397.4 L111.0,397.4 L111.5,397.4 L112.0,397.4 L112.5,397.4 L113.0,397.4 L113.5,397.4 L114.0,397.4 L114.5,397.4 L115.0,397.3 L115.5,397.3 L116.0,397.3 L116.5,397.3 L117.0,397.3 L117.5,397.3 L118.0,397.3 L118.5,397.3 L119.0,397.3 L119.5,397.3 L120.0,397.3 L120.5,397.4 L121.0,397.4 L121.5,397.4 L122.0,397.4 L122.5,397.4 L123.0,397.4 L123.5,397.4 L124.0,397.4 L124.5,397.4 L125.0,397.4 L125.5,397.4 L126.0,397.5 L126.5,397.5 L127.0,397.5 L127.5,397.5 L128.0,397.6 L128.5,397.6 L129.0,397.6 L129.5,397.6 L130.0,397.7 L130.5,397.7 L131.0,397.7 L131.5,397.7 L132.0,397.7 L132.5,397.7 L133.0,397.7 L133.5,397.6 L134.0,397.6 L134.5,397.6 L135.0,397.6 L135.5,397.6 L136.0,397.6 L136.5,397.6 L137.0,397.6 L137.5,397.7 L138.0,397.7 L138.5,397.7 L139.0,397.7 L139.5,397.6 L140.0,397.6 L140.5,397.6 L141.0,397.6 L141.5,397.6 L142.0,397.6 L142.5,397.6 L143.0,397.6 L143.5,397.5 L144.0,397.5 L144.5,397.4 L145.0,397.4 L145.5,397.3 L146.0,397.3 L146.5,397.2 L147.0,397.2 L147.5,397.2 L148.0,397.2 L148.5,397.2 L149.0,397.2 L149.5,397.2 L150.0,397.2 L150.5,397.2 L151.0,397.2 L151.5,397.2 L152.0,397.2 L152.5,397.2 L153.0,397.2 L153.5,397.2 L154.0,397.2 L154.5,397.2 L155.0,397.2 L155.5,397.2 L156.0,397.2 L156.5,397.3 L157.0,397.3 L157.5,397.3 L158.0,397.3 L158.5,397.3 L159.0,397.4 L159.5,397.4 L160.0,397.4 L160.5,397.4 L161.0,397.4 L161.5,397.4 L162.0,397.4 L162.5,397.4 L163.0,397.4 L163.5,397.3 L164.0,397.3 L164.5,397.3 L165.0,397.3 L165.5,397.3 L166.0,397.3 L166.5,397.3 L167.0,397.4 L167.5,397.4 L168.0,397.4 L168.5,397.4 L169.0,397.4 L169.5,397.4 L170.0,397.4 L170.5,397.5 L171.0,397.5 L171.5,397.5 L172.0,397.6 L172.5,397.6 L173.0,397.6 L173.5,397.6 L174.0,397.7 L174.5,397.7 L175.0,397.7 L175.5,397.7 L176.0,397.8 L176.5,397.8 L177.0,397.8 L177.5,397.8 L178.0,397.8 L178.5,397.8 L179.0,397.8 L179.5,397.8 L180.0,397.8 L180.5,397.8 L181.0,397.7 L181.5,397.7 L182.0,397.6 L182.5,397.6 L183.0,397.5 L183.5,397.5 L184.0,397.5 L184.5,397.4 L185.0,397.4 L185.5,397.3 L186.0,397.3 L186.5,397.2 L187.0,397.2 L187.5,397.1 L188.0,397.1 L188.5,397.0 L189.0,397.0 L189.5,396.9 L190.0,396.9 L190.5,396.8 L191.0,396.8 L191.5,396.8 L192.0,396.8 L192.5,396.8 L193.0,396.8 L193.5,396.8 L194.0,396.8 L194.5,396.8 L195.0,396.8 L195.5,396.7 L196.0,396.7 L196.5,396.7 L197.0,396.7 L197.5,396.7 L198.0,396.7 L198.5,396.8 L199.0,396.8 L199.5,396.9 L200.0,396.9 L200.5,397.0 L201.0,397.0 L201.5,397.1 L202.0,397.1 L202.5,397.1 L203.0,397.1 L203.5,397.2 L204.0,397.2 L204.5,397.2 L205.0,397.3 L205.5,397.3 L206.0,397.3 L206.5,397.4 L207.0,397.4 L207.5,397.4 L208.0,397.5 L208.5,397.5 L209.0,397.5 L209.5,397.6 L210.0,397.6 L210.5,397.6 L211.0,397.6 L211.5,397.6 L212.0,397.6 L212.5,397.7 L213.0,397.7 L213.5,397.7 L214.0,397.7 L214.5,397.7 L215.0,397.7 L215.5,397.7 L216.0,397.6 L216.5,397.6 L217.0,397.6 L217.5,397.7 L218.0,397.7 L218.5,397.7 L219.0,397.7 L219.5,397.6 L220.0,397.6 L220.5,397.5 L221.0,397.5 L221.5,397.5 L222.0,397.4 L222.5,397.4 L223.0,397.4 L223.5,397.4 L224.0,397.4 L224.5,397.4 L225.0,397.4 L225.5,397.4 L226.0,397.4 L226.5,397.4 L227.0,397.4 L227.5,397.5 L228.0,397.5 L228.5,397.5 L229.0,397.5 L229.5,397.5 L230.0,397.5 L230.5,397.4 L231.0,397.4 L231.5,397.4 L232.0,397.3 L232.5,397.2 L233.0,397.2 L233.5,397.2 L234.0,397.1 L234.5,397.1 L235.0,397.1 L235.5,397.1 L236.0,397.0 L236.5,397.0 L237.0,397.0 L237.5,397.0 L238.0,397.0 L238.5,396.9 L239.0,396.9 L239.5,396.9 L240.0,396.9 L240.5,396.9 L241.0,396.9 L241.5,396.9 L242.0,396.9 L242.5,396.9 L243.0,396.9 L243.5,396.9 L244.0,396.9 L244.5,396.9 L245.0,396.9 L245.5,396.9 L246.0,396.9 L246.5,397.0 L247.0,397.0 L247.5,396.9 L248.0,396.9 L248.5,396.9 L249.0,396.8 L249.5,396.8 L250.0,396.8 L250.5,396.7 L251.0,396.7 L251.5,396.7 L252.0,396.6 L252.5,396.6 L253.0,396.6 L253.5,396.6 L254.0,396.6 L254.5,396.6 L255.0,396.6 L255.5,396.6 L256.0,396.6 L256.5,396.6 L257.0,396.6 L257.5,396.7 L258.0,396.7 L258.5,396.7 L259.0,396.7 L259.5,396.7 L260.0,396.7 L260.5,396.7 L261.0,396.7 L261.5,396.7 L262.0,396.7 L262.5,396.6 L263.0,396.6 L263.5,396.6 L264.0,396.5 L264.5,396.5 L265.0,396.5 L265.5,396.5 L266.0,396.5 L266.5,396.5 L267.0,396.5 L267.5,396.6 L268.0,396.7 L268.5,396.8 L269.0,396.8 L269.5,396.9 L270.0,396.9 L270.5,397.0 L271.0,397.0 L271.5,397.0 L272.0,397.0 L272.5,397.0 L273.0,397.1 L273.5,397.1 L274.0,397.1 L274.5,397.1 L275.0,397.1 L275.5,397.1 L276.0,397.1 L276.5,397.2 L277.0,397.2 L277.5,397.2 L278.0,397.2 L278.5,397.2 L279.0,397.3 L279.5,397.2 L280.0,397.2 L280.5,397.2 L281.0,397.2 L281.5,397.2 L282.0,397.2 L282.5,397.2 L283.0,397.1 L283.5,397.1 L284.0,397.1 L284.5,397.1 L285.0,397.1 L285.5,397.1 L286.0,397.1 L286.5,397.2 L287.0,397.1 L287.5,397.1 L288.0,397.1 L288.5,397.1 L289.0,397.1 L289.5,397.0 L290.0,397.0 L290.5,397.0 L291.0,397.0 L291.5,397.0 L292.0,397.0 L292.5,397.0 L293.0,396.9 L293.5,396.9 L294.0,396.9 L294.5,396.8 L295.0,396.8 L295.5,396.8 L296.0,396.7 L296.5,396.7 L297.0,396.7 L297.5,396.7 L298.0,396.7 L298.5,396.6 L299.0,396.6 L299.5,396.6 L300.0,396.6 L300.5,396.6 L301.0,396.6 L301.5,396.6 L302.0,396.6 L302.5,396.6 L303.0,396.6 L303.5,396.6 L304.0,396.7 L304.5,396.7 L305.0,396.7 L305.5,396.8 L306.0,396.8 L306.5,396.8 L307.0,396.9 L307.5,396.9 L308.0,396.9 L308.5,396.9 L309.0,396.9 L309.5,396.9 L310.0,396.9 L310.5,396.9 L311.0,396.9 L311.5,396.9 L312.0,396.9 L312.5,396.9 L313.0,396.9 L313.5,396.9 L314.0,396.9 L314.5,396.9 L315.0,396.9 L315.5,396.9 L316.0,396.9 L316.5,396.9 L317.0,397.0 L317.5,397.0 L318.0,397.0 L318.5,396.9 L319.0,396.9 L319.5,396.9 L320.0,396.9 L320.5,396.9 L321.0,396.9 L321.5,396.8 L322.0,396.8 L322.5,396.7 L323.0,396.7 L323.5,396.7 L324.0,396.6 L324.5,396.6 L325.0,396.6 L325.5,396.6 L326.0,396.6 L326.5,396.6 L327.0,396.6 L327.5,396.6 L328.0,396.7 L328.5,396.7 L329.0,396.8 L329.5,396.8 L330.0,396.8 L330.5,396.8 L331.0,396.9 L331.5,396.9 L332.0,396.9 L332.5,396.9 L333.0,396.9 L333.5,396.9 L334.0,396.8 L334.5,396.8 L335.0,396.8 L335.5,396.8 L336.0,396.8 L336.5,396.8 L337.0,396.8 L337.5,396.8 L338.0,396.7 L338.5,396.7 L339.0,396.7 L339.5,396.6 L340.0,396.6 L340.5,396.6 L341.0,396.5 L341.5,396.5 L342.0,396.5 L342.5,396.4 L343.0,396.4 L343.5,396.4 L344.0,396.4 L344.5,396.4 L345.0,396.4 L345.5,396.4 L346.0,396.4 L346.5,396.4 L347.0,396.4 L347.5,396.4 L348.0,396.4 L348.5,396.4 L349.0,396.4 L349.5,396.4 L350.0,396.5 L350.5,396.5 L351.0,396.5 L351.5,396.4 L352.0,396.3 L352.5,396.3 L353.0,396.2 L353.5,396.1 L354.0,396.0 L354.5,395.9 L355.0,395.9 L355.5,395.8 L356.0,395.8 L356.5,395.8 L357.0,395.8 L357.5,395.8 L358.0,395.8 L358.5,395.8 L359.0,395.8 L359.5,395.8 L360.0,395.8 L360.5,395.8 L361.0,395.8 L361.5,395.8 L362.0,395.8 L362.5,395.8 L363.0,395.8 L363.5,395.8 L364.0,395.8 L364.5,395.8 L365.0,395.9 L365.5,396.0 L366.0,396.1 L366.5,396.2 L367.0,396.2 L367.5,396.3 L368.0,396.3 L368.5,396.3 L369.0,396.3 L369.5,396.3 L370.0,396.3 L370.5,396.3 L371.0,396.3 L371.5,396.3 L372.0,396.3 L372.5,396.3 L373.0,396.3 L373.5,396.3 L374.0,396.3 L374.5,396.3 L375.0,396.3 L375.5,396.4 L376.0,396.4 L376.5,396.4 L377.0,396.4 L377.5,396.4 L378.0,396.4 L378.5,396.5 L379.0,396.5 L379.5,396.5 L380.0,396.6 L380.5,396.6 L381.0,396.7 L381.5,396.7 L382.0,396.8 L382.5,396.9 L383.0,396.9 L383.5,397.0 L384.0,397.1 L384.5,397.2 L385.0,397.3 L385.5,397.3 L386.0,397.3 L386.5,397.4 L387.0,397.4 L387.5,397.4 L388.0,397.5 L388.5,397.5 L389.0,397.5 L389.5,397.5 L390.0,397.5 L390.5,397.5 L391.0,397.5 L391.5,397.5 L392.0,397.5 L392.5,397.5 L393.0,397.5 L393.5,397.5 L394.0,397.5 L394.5,397.5 L395.0,397.5 L395.5,397.5 L396.0,397.5 L396.5,397.5 L397.0,397.4 L397.5,397.4 L398.0,397.4 L398.5,397.3 L399.0,397.3 L399.5,397.3 L400.0,397.3 L400.5,397.2 L401.0,397.2 L401.5,397.2 L402.0,397.2 L402.5,397.2 L403.0,397.2 L403.5,397.2 L404.0,397.3 L404.5,397.3 L405.0,397.4 L405.5,397.4 L406.0,397.4 L406.5,397.5 L407.0,397.5 L407.5,397.5 L408.0,397.5 L408.5,397.5 L409.0,397.5 L409.5,397.5 L410.0,397.5 L410.5,397.5 L411.0,397.5 L411.5,397.5 L412.0,397.5 L412.5,397.5 L413.0,397.5 L413.5,397.5 L414.0,397.5 L414.5,397.5 L415.0,397.5" stroke="#0A6CC4"/>
</g>
<text x="103.4" y="524.7" font-size="11.15" letter-spacing="-0.12" text-anchor="middle" fill="#1a1a1a" stroke="#1a1a1a" stroke-width="0.2">100</text>
<text x="165.6" y="524.7" font-size="11.15" letter-spacing="-0.12" text-anchor="middle" fill="#1a1a1a" stroke="#1a1a1a" stroke-width="0.2">200</text>
<text x="227.8" y="524.7" font-size="11.15" letter-spacing="-0.12" text-anchor="middle" fill="#1a1a1a" stroke="#1a1a1a" stroke-width="0.2">300</text>
<text x="290.0" y="524.7" font-size="11.15" letter-spacing="-0.12" text-anchor="middle" fill="#1a1a1a" stroke="#1a1a1a" stroke-width="0.2">400</text>
<text x="352.3" y="524.7" font-size="11.15" letter-spacing="-0.12" text-anchor="middle" fill="#1a1a1a" stroke="#1a1a1a" stroke-width="0.2">500</text>
<text x="414.5" y="524.7" font-size="11.15" letter-spacing="-0.12" text-anchor="middle" fill="#1a1a1a" stroke="#1a1a1a" stroke-width="0.2">600</text>
<text x="44.8" y="515.0" font-size="11.1" letter-spacing="-0.1" text-anchor="end" fill="#1a1a1a" stroke="#1a1a1a" stroke-width="0.2">0</text>
<text x="44.8" y="482.5" font-size="11.1" letter-spacing="-0.1" text-anchor="end" fill="#1a1a1a" stroke="#1a1a1a" stroke-width="0.2">0.5</text>
<text x="44.8" y="450.0" font-size="11.1" letter-spacing="-0.1" text-anchor="end" fill="#1a1a1a" stroke="#1a1a1a" stroke-width="0.2">1</text>
<text x="44.8" y="417.6" font-size="11.1" letter-spacing="-0.1" text-anchor="end" fill="#1a1a1a" stroke="#1a1a1a" stroke-width="0.2">1.5</text>
<text x="44.8" y="385.1" font-size="11.1" letter-spacing="-0.1" text-anchor="end" fill="#1a1a1a" stroke="#1a1a1a" stroke-width="0.2">2</text>
<text font-size="10.9" fill="#1a1a1a" stroke="#1a1a1a" stroke-width="0.15"><tspan x="47.9" y="379.2" font-size="13.4">×</tspan><tspan x="57.2" y="377.6">10</tspan><tspan x="68.8" y="373.0" font-size="8.4">4</tspan></text>
<text x="230.7" y="375.2" font-size="13.95" font-weight="bold" text-anchor="middle" fill="#000">(c) d-axis voltage</text>
<text transform="translate(16.9,466.1) rotate(-90) scale(1,1)" font-size="14.3" fill="#1a1a1a">V</text>
<text transform="translate(24.8,455.0) rotate(-90) scale(1,1)" font-size="10.5" fill="#1a1a1a">d</text>
<text transform="translate(16.9,443.8) rotate(-90) scale(1.03,1)" font-size="14.3" fill="#1a1a1a">[V]</text>
<text x="231.1" y="542.3" font-size="14.1" text-anchor="middle" fill="#1a1a1a">Time [s]</text>
</svg></body></html>
